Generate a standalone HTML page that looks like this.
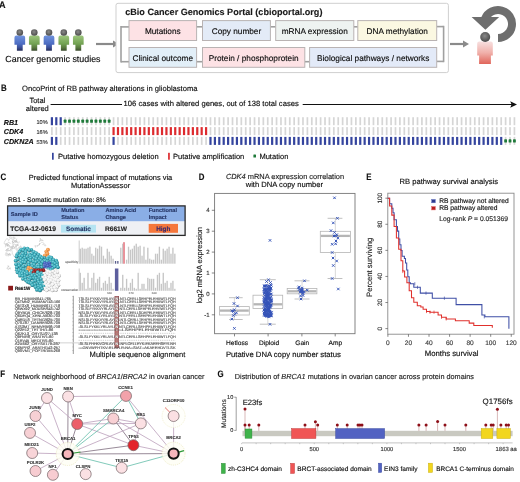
<!DOCTYPE html><html><head><meta charset="utf-8"><title>cBioPortal figure</title><style>html,body{margin:0;padding:0;background:#fff;width:520px;height:482px;overflow:hidden}svg{display:block}text{stroke-width:0.13px}</style></head><body><svg width="520" height="482" viewBox="0 0 520 482" text-rendering="geometricPrecision" font-family='"Liberation Sans", Arial, sans-serif'><defs>
<linearGradient id="gblue" x1="0" y1="0" x2="0" y2="1"><stop offset="0" stop-color="#6f92dc"/><stop offset="0.55" stop-color="#4c6cc2"/><stop offset="0.8" stop-color="#3a4d94"/><stop offset="1" stop-color="#262e58"/></linearGradient>
<linearGradient id="ggreen" x1="0" y1="0" x2="0" y2="1"><stop offset="0" stop-color="#9cc57c"/><stop offset="0.55" stop-color="#72a152"/><stop offset="0.8" stop-color="#58783e"/><stop offset="1" stop-color="#3b4a2e"/></linearGradient>
<linearGradient id="gred" x1="0" y1="0" x2="0" y2="1"><stop offset="0" stop-color="#f7e0e0"/><stop offset="0.5" stop-color="#f0b0aa"/><stop offset="1" stop-color="#e0655a"/></linearGradient>
<radialGradient id="ghead" cx="0.45" cy="0.4" r="0.6"><stop offset="0" stop-color="#8a8a8a"/><stop offset="1" stop-color="#4a4a4a"/></radialGradient>
<radialGradient id="gteal" cx="0.4" cy="0.35" r="0.65"><stop offset="0" stop-color="#86d6df"/><stop offset="0.55" stop-color="#37a9b9"/><stop offset="1" stop-color="#17626e"/></radialGradient>
<radialGradient id="gwhite" cx="0.4" cy="0.35" r="0.65"><stop offset="0" stop-color="#ffffff"/><stop offset="0.65" stop-color="#ececec"/><stop offset="1" stop-color="#8e8e8e"/></radialGradient>
<radialGradient id="gorange" cx="0.4" cy="0.35" r="0.65"><stop offset="0" stop-color="#ffc080"/><stop offset="1" stop-color="#e0701c"/></radialGradient>
<radialGradient id="gdred" cx="0.4" cy="0.35" r="0.65"><stop offset="0" stop-color="#c04040"/><stop offset="1" stop-color="#7a1010"/></radialGradient>
<radialGradient id="gpblue" cx="0.4" cy="0.35" r="0.65"><stop offset="0" stop-color="#6a8ad8"/><stop offset="1" stop-color="#2a40a0"/></radialGradient>
</defs><rect width="520" height="482" fill="#ffffff"/><text stroke="#111" transform="translate(-0.9,7.5) scale(0.95,1)" font-size="9.6" font-weight="bold" fill="#111">A</text>
<path d="M14.45,37.60 Q14.45,35.60 16.45,35.60 L23.15,35.60 Q25.15,35.60 25.15,37.60 L25.15,44.80 L22.70,44.80 L22.70,50.80 L16.90,50.80 L16.90,44.80 L14.45,44.80 Z" fill="url(#gblue)"/>
<circle cx="19.80" cy="32.50" r="3.30" fill="url(#ghead)"/>
<path d="M28.95,37.60 Q28.95,35.60 30.95,35.60 L37.65,35.60 Q39.65,35.60 39.65,37.60 L39.65,44.80 L37.20,44.80 L37.20,50.80 L31.40,50.80 L31.40,44.80 L28.95,44.80 Z" fill="url(#ggreen)"/>
<circle cx="34.30" cy="32.50" r="3.30" fill="url(#ghead)"/>
<path d="M43.65,37.60 Q43.65,35.60 45.65,35.60 L52.35,35.60 Q54.35,35.60 54.35,37.60 L54.35,44.80 L51.90,44.80 L51.90,50.80 L46.10,50.80 L46.10,44.80 L43.65,44.80 Z" fill="url(#gblue)"/>
<circle cx="49.00" cy="32.50" r="3.30" fill="url(#ghead)"/>
<path d="M58.45,37.60 Q58.45,35.60 60.45,35.60 L67.15,35.60 Q69.15,35.60 69.15,37.60 L69.15,44.80 L66.70,44.80 L66.70,50.80 L60.90,50.80 L60.90,44.80 L58.45,44.80 Z" fill="url(#ggreen)"/>
<circle cx="63.80" cy="32.50" r="3.30" fill="url(#ghead)"/>
<path d="M72.95,37.60 Q72.95,35.60 74.95,35.60 L81.65,35.60 Q83.65,35.60 83.65,37.60 L83.65,44.80 L81.20,44.80 L81.20,50.80 L75.40,50.80 L75.40,44.80 L72.95,44.80 Z" fill="url(#ggreen)"/>
<circle cx="78.30" cy="32.50" r="3.30" fill="url(#ghead)"/>
<text x="5.3" y="61.6" font-size="8.9" stroke="#222">Cancer genomic studies</text>
<line x1="96.00" y1="44.00" x2="114.00" y2="44.00" stroke="#8a8a8a" stroke-width="2.2"/>
<path d="M113,40.6 L119,44 L113,47.4 Z" fill="#8a8a8a"/>
<rect x="116.00" y="3.30" width="332.40" height="69.30" fill="#ffffff" stroke="#cfcfcf" stroke-width="1" rx="2"/>
<text x="125.2" y="14.7" font-size="9.08" font-weight="bold" fill="#1a1a1a" stroke="#1a1a1a">cBio Cancer Genomics Portal (cbioportal.org)</text>
<line x1="121.00" y1="26.90" x2="129.00" y2="26.90" stroke="#a0a0a0" stroke-width="1.6"/>
<line x1="121.00" y1="26.10" x2="121.00" y2="62.50" stroke="#a0a0a0" stroke-width="1.6"/>
<line x1="121.00" y1="61.70" x2="129.00" y2="61.70" stroke="#a0a0a0" stroke-width="1.6"/>
<line x1="436.70" y1="26.60" x2="443.60" y2="26.60" stroke="#a0a0a0" stroke-width="1.6"/>
<line x1="443.60" y1="25.80" x2="443.60" y2="62.20" stroke="#a0a0a0" stroke-width="1.6"/>
<line x1="436.70" y1="61.40" x2="443.60" y2="61.40" stroke="#a0a0a0" stroke-width="1.6"/>
<line x1="196.60" y1="26.80" x2="202.50" y2="26.80" stroke="#a0a0a0" stroke-width="1.6"/>
<line x1="270.40" y1="26.80" x2="275.70" y2="26.80" stroke="#a0a0a0" stroke-width="1.6"/>
<line x1="353.80" y1="26.80" x2="357.80" y2="26.80" stroke="#a0a0a0" stroke-width="1.6"/>
<line x1="196.60" y1="61.70" x2="202.50" y2="61.70" stroke="#a0a0a0" stroke-width="1.6"/>
<line x1="304.80" y1="61.70" x2="309.60" y2="61.70" stroke="#a0a0a0" stroke-width="1.6"/>
<rect x="129.00" y="20.60" width="67.60" height="19.90" fill="#fde2e5" stroke="#b9b3b3" stroke-width="1"/>
<text x="162.8" y="34.05" font-size="8.25" text-anchor="middle" stroke="#222">Mutations</text>
<rect x="202.50" y="20.60" width="67.90" height="19.90" fill="#e3ebf7" stroke="#b9b3b3" stroke-width="1"/>
<text x="236.45" y="34.05" font-size="8.25" text-anchor="middle" stroke="#222">Copy number</text>
<rect x="275.70" y="20.60" width="78.10" height="19.90" fill="#eef3f1" stroke="#b9b3b3" stroke-width="1"/>
<text x="314.75" y="34.05" font-size="8.25" text-anchor="middle" stroke="#222">mRNA expression</text>
<rect x="357.80" y="20.60" width="78.90" height="19.90" fill="#fbf8e2" stroke="#b9b3b3" stroke-width="1"/>
<text x="397.25" y="34.05" font-size="8.25" text-anchor="middle" stroke="#222">DNA methylation</text>
<rect x="129.00" y="47.50" width="67.60" height="19.80" fill="#e2eff8" stroke="#b9b3b3" stroke-width="1"/>
<text x="162.8" y="60.9" font-size="8.25" text-anchor="middle" stroke="#222">Clinical outcome</text>
<rect x="202.50" y="47.50" width="102.30" height="19.80" fill="#fde2e5" stroke="#b9b3b3" stroke-width="1"/>
<text x="253.65" y="60.9" font-size="8.25" text-anchor="middle" stroke="#222">Protein / phosphoprotein</text>
<rect x="309.60" y="47.50" width="127.10" height="19.80" fill="#e3eaf8" stroke="#b9b3b3" stroke-width="1"/>
<text x="373.15" y="60.9" font-size="8.25" text-anchor="middle" stroke="#222">Biological pathways / networks</text>
<line x1="450.00" y1="44.00" x2="464.00" y2="44.00" stroke="#8a8a8a" stroke-width="2.2"/>
<path d="M463,40.6 L469,44 L463,47.4 Z" fill="#8a8a8a"/>
<path d="M498,42 A18,18 0 1 0 481.4,17 L471.6,17 L485.4,29.8 L499.2,17 L490.9,17 A10,10 0 1 1 498,34 Z" fill="#6e6e6e"/>
<path d="M477.2,43.5 Q477.2,41.5 479.2,41.5 L490.8,41.5 Q492.8,41.5 492.8,43.5 L492.8,55.5 L490.9,55.5 L490.9,64 L479.1,64 L479.1,55.5 L477.2,55.5 Z" fill="url(#gred)"/>
<circle cx="485.20" cy="37.00" r="5.00" fill="url(#ghead)"/>
<text stroke="#111" transform="translate(1.1,91.0) scale(0.84,1)" font-size="9.4" font-weight="bold" fill="#111">B</text>
<text x="22" y="91.0" font-size="7.62" stroke="#222">OncoPrint of RB pathway alterations in glioblastoma</text>
<text x="37.3" y="102.6" font-size="7.5" text-anchor="middle" stroke="#222">Total</text>
<text x="37.3" y="111.2" font-size="7.5" text-anchor="middle" stroke="#222">altered</text>
<line x1="50.60" y1="104.50" x2="122.00" y2="104.50" stroke="#111" stroke-width="1"/>
<text x="123.6" y="106.3" font-size="7.62" stroke="#222">106 cases with altered genes, out of 138 total cases</text>
<line x1="302.70" y1="104.50" x2="512.00" y2="104.50" stroke="#111" stroke-width="1"/>
<path d="M510.2,101.3 L517,104.5 L510.2,107.7 L511.6,104.5 Z" fill="#111"/>
<text x="3.8" y="124.5" font-size="7.15" font-weight="bold" font-style="italic" fill="#111" stroke="#111">RB1</text>
<text x="47.7" y="124.2" font-size="5.6" text-anchor="end" fill="#333" stroke="#333">10%</text>
<text x="3.8" y="134.4" font-size="7.15" font-weight="bold" font-style="italic" fill="#111" stroke="#111">CDK4</text>
<text x="47.7" y="134.1" font-size="5.6" text-anchor="end" fill="#333" stroke="#333">16%</text>
<text x="3.8" y="144.3" font-size="7.15" font-weight="bold" font-style="italic" fill="#111" stroke="#111">CDKN2A</text>
<text x="47.7" y="144.0" font-size="5.6" text-anchor="end" fill="#333" stroke="#333">53%</text>
<rect x="50.80" y="117.20" width="2.20" height="8.00" fill="#34449e"/>
<rect x="51.05" y="127.10" width="1.70" height="8.00" fill="#d6d6d6"/>
<rect x="50.80" y="136.90" width="2.20" height="8.00" fill="#34449e"/>
<rect x="55.20" y="117.20" width="2.20" height="8.00" fill="#34449e"/>
<rect x="55.45" y="127.10" width="1.70" height="8.00" fill="#d6d6d6"/>
<rect x="55.20" y="136.90" width="2.20" height="8.00" fill="#34449e"/>
<rect x="59.61" y="117.20" width="2.20" height="8.00" fill="#34449e"/>
<rect x="59.86" y="127.10" width="1.70" height="8.00" fill="#d6d6d6"/>
<rect x="59.86" y="136.90" width="1.70" height="8.00" fill="#d6d6d6"/>
<rect x="64.27" y="117.20" width="1.70" height="8.00" fill="#d6d6d6"/>
<rect x="63.71" y="119.60" width="2.80" height="3.20" fill="#1f7a3a" rx="0.6"/>
<rect x="64.27" y="127.10" width="1.70" height="8.00" fill="#d6d6d6"/>
<rect x="64.27" y="136.90" width="1.70" height="8.00" fill="#d6d6d6"/>
<rect x="68.67" y="117.20" width="1.70" height="8.00" fill="#d6d6d6"/>
<rect x="68.12" y="119.60" width="2.80" height="3.20" fill="#1f7a3a" rx="0.6"/>
<rect x="68.67" y="127.10" width="1.70" height="8.00" fill="#d6d6d6"/>
<rect x="68.67" y="136.90" width="1.70" height="8.00" fill="#d6d6d6"/>
<rect x="73.08" y="117.20" width="1.70" height="8.00" fill="#d6d6d6"/>
<rect x="72.52" y="119.60" width="2.80" height="3.20" fill="#1f7a3a" rx="0.6"/>
<rect x="73.08" y="127.10" width="1.70" height="8.00" fill="#d6d6d6"/>
<rect x="73.08" y="136.90" width="1.70" height="8.00" fill="#d6d6d6"/>
<rect x="77.48" y="117.20" width="1.70" height="8.00" fill="#d6d6d6"/>
<rect x="76.93" y="119.60" width="2.80" height="3.20" fill="#1f7a3a" rx="0.6"/>
<rect x="77.48" y="127.10" width="1.70" height="8.00" fill="#d6d6d6"/>
<rect x="77.48" y="136.90" width="1.70" height="8.00" fill="#d6d6d6"/>
<rect x="81.89" y="117.20" width="1.70" height="8.00" fill="#d6d6d6"/>
<rect x="81.33" y="119.60" width="2.80" height="3.20" fill="#1f7a3a" rx="0.6"/>
<rect x="81.89" y="127.10" width="1.70" height="8.00" fill="#d6d6d6"/>
<rect x="81.89" y="136.90" width="1.70" height="8.00" fill="#d6d6d6"/>
<rect x="86.29" y="117.20" width="1.70" height="8.00" fill="#d6d6d6"/>
<rect x="85.74" y="119.60" width="2.80" height="3.20" fill="#1f7a3a" rx="0.6"/>
<rect x="86.29" y="127.10" width="1.70" height="8.00" fill="#d6d6d6"/>
<rect x="86.29" y="136.90" width="1.70" height="8.00" fill="#d6d6d6"/>
<rect x="90.70" y="117.20" width="1.70" height="8.00" fill="#d6d6d6"/>
<rect x="90.14" y="119.60" width="2.80" height="3.20" fill="#1f7a3a" rx="0.6"/>
<rect x="90.70" y="127.10" width="1.70" height="8.00" fill="#d6d6d6"/>
<rect x="90.70" y="136.90" width="1.70" height="8.00" fill="#d6d6d6"/>
<rect x="95.10" y="117.20" width="1.70" height="8.00" fill="#d6d6d6"/>
<rect x="94.55" y="119.60" width="2.80" height="3.20" fill="#1f7a3a" rx="0.6"/>
<rect x="95.10" y="127.10" width="1.70" height="8.00" fill="#d6d6d6"/>
<rect x="95.10" y="136.90" width="1.70" height="8.00" fill="#d6d6d6"/>
<rect x="99.51" y="117.20" width="1.70" height="8.00" fill="#d6d6d6"/>
<rect x="98.95" y="119.60" width="2.80" height="3.20" fill="#1f7a3a" rx="0.6"/>
<rect x="99.51" y="127.10" width="1.70" height="8.00" fill="#d6d6d6"/>
<rect x="99.51" y="136.90" width="1.70" height="8.00" fill="#d6d6d6"/>
<rect x="103.91" y="117.20" width="1.70" height="8.00" fill="#d6d6d6"/>
<rect x="103.36" y="119.60" width="2.80" height="3.20" fill="#1f7a3a" rx="0.6"/>
<rect x="103.91" y="127.10" width="1.70" height="8.00" fill="#d6d6d6"/>
<rect x="103.91" y="136.90" width="1.70" height="8.00" fill="#d6d6d6"/>
<rect x="108.31" y="117.20" width="1.70" height="8.00" fill="#d6d6d6"/>
<rect x="107.76" y="119.60" width="2.80" height="3.20" fill="#1f7a3a" rx="0.6"/>
<rect x="108.31" y="127.10" width="1.70" height="8.00" fill="#d6d6d6"/>
<rect x="108.31" y="136.90" width="1.70" height="8.00" fill="#d6d6d6"/>
<rect x="112.72" y="117.20" width="1.70" height="8.00" fill="#d6d6d6"/>
<rect x="112.47" y="127.10" width="2.20" height="8.00" fill="#dd2a2e"/>
<rect x="112.47" y="136.90" width="2.20" height="8.00" fill="#34449e"/>
<rect x="117.12" y="117.20" width="1.70" height="8.00" fill="#d6d6d6"/>
<rect x="116.88" y="127.10" width="2.20" height="8.00" fill="#dd2a2e"/>
<rect x="117.12" y="136.90" width="1.70" height="8.00" fill="#d6d6d6"/>
<rect x="121.53" y="117.20" width="1.70" height="8.00" fill="#d6d6d6"/>
<rect x="121.28" y="127.10" width="2.20" height="8.00" fill="#dd2a2e"/>
<rect x="121.53" y="136.90" width="1.70" height="8.00" fill="#d6d6d6"/>
<rect x="125.94" y="117.20" width="1.70" height="8.00" fill="#d6d6d6"/>
<rect x="125.69" y="127.10" width="2.20" height="8.00" fill="#dd2a2e"/>
<rect x="125.94" y="136.90" width="1.70" height="8.00" fill="#d6d6d6"/>
<rect x="130.34" y="117.20" width="1.70" height="8.00" fill="#d6d6d6"/>
<rect x="130.09" y="127.10" width="2.20" height="8.00" fill="#dd2a2e"/>
<rect x="130.34" y="136.90" width="1.70" height="8.00" fill="#d6d6d6"/>
<rect x="134.75" y="117.20" width="1.70" height="8.00" fill="#d6d6d6"/>
<rect x="134.50" y="127.10" width="2.20" height="8.00" fill="#dd2a2e"/>
<rect x="134.75" y="136.90" width="1.70" height="8.00" fill="#d6d6d6"/>
<rect x="139.15" y="117.20" width="1.70" height="8.00" fill="#d6d6d6"/>
<rect x="138.90" y="127.10" width="2.20" height="8.00" fill="#dd2a2e"/>
<rect x="139.15" y="136.90" width="1.70" height="8.00" fill="#d6d6d6"/>
<rect x="143.56" y="117.20" width="1.70" height="8.00" fill="#d6d6d6"/>
<rect x="143.31" y="127.10" width="2.20" height="8.00" fill="#dd2a2e"/>
<rect x="143.56" y="136.90" width="1.70" height="8.00" fill="#d6d6d6"/>
<rect x="147.96" y="117.20" width="1.70" height="8.00" fill="#d6d6d6"/>
<rect x="147.71" y="127.10" width="2.20" height="8.00" fill="#dd2a2e"/>
<rect x="147.96" y="136.90" width="1.70" height="8.00" fill="#d6d6d6"/>
<rect x="152.37" y="117.20" width="1.70" height="8.00" fill="#d6d6d6"/>
<rect x="152.12" y="127.10" width="2.20" height="8.00" fill="#dd2a2e"/>
<rect x="152.37" y="136.90" width="1.70" height="8.00" fill="#d6d6d6"/>
<rect x="156.77" y="117.20" width="1.70" height="8.00" fill="#d6d6d6"/>
<rect x="156.52" y="127.10" width="2.20" height="8.00" fill="#dd2a2e"/>
<rect x="156.77" y="136.90" width="1.70" height="8.00" fill="#d6d6d6"/>
<rect x="161.18" y="117.20" width="1.70" height="8.00" fill="#d6d6d6"/>
<rect x="160.93" y="127.10" width="2.20" height="8.00" fill="#dd2a2e"/>
<rect x="161.18" y="136.90" width="1.70" height="8.00" fill="#d6d6d6"/>
<rect x="165.58" y="117.20" width="1.70" height="8.00" fill="#d6d6d6"/>
<rect x="165.33" y="127.10" width="2.20" height="8.00" fill="#dd2a2e"/>
<rect x="165.58" y="136.90" width="1.70" height="8.00" fill="#d6d6d6"/>
<rect x="169.99" y="117.20" width="1.70" height="8.00" fill="#d6d6d6"/>
<rect x="169.74" y="127.10" width="2.20" height="8.00" fill="#dd2a2e"/>
<rect x="169.99" y="136.90" width="1.70" height="8.00" fill="#d6d6d6"/>
<rect x="174.39" y="117.20" width="1.70" height="8.00" fill="#d6d6d6"/>
<rect x="174.14" y="127.10" width="2.20" height="8.00" fill="#dd2a2e"/>
<rect x="174.39" y="136.90" width="1.70" height="8.00" fill="#d6d6d6"/>
<rect x="178.80" y="117.20" width="1.70" height="8.00" fill="#d6d6d6"/>
<rect x="178.55" y="127.10" width="2.20" height="8.00" fill="#dd2a2e"/>
<rect x="178.80" y="136.90" width="1.70" height="8.00" fill="#d6d6d6"/>
<rect x="183.20" y="117.20" width="1.70" height="8.00" fill="#d6d6d6"/>
<rect x="182.95" y="127.10" width="2.20" height="8.00" fill="#dd2a2e"/>
<rect x="183.20" y="136.90" width="1.70" height="8.00" fill="#d6d6d6"/>
<rect x="187.61" y="117.20" width="1.70" height="8.00" fill="#d6d6d6"/>
<rect x="187.36" y="127.10" width="2.20" height="8.00" fill="#dd2a2e"/>
<rect x="187.61" y="136.90" width="1.70" height="8.00" fill="#d6d6d6"/>
<rect x="192.01" y="117.20" width="1.70" height="8.00" fill="#d6d6d6"/>
<rect x="191.76" y="127.10" width="2.20" height="8.00" fill="#dd2a2e"/>
<rect x="192.01" y="136.90" width="1.70" height="8.00" fill="#d6d6d6"/>
<rect x="196.42" y="117.20" width="1.70" height="8.00" fill="#d6d6d6"/>
<rect x="196.17" y="127.10" width="2.20" height="8.00" fill="#dd2a2e"/>
<rect x="196.42" y="136.90" width="1.70" height="8.00" fill="#d6d6d6"/>
<rect x="200.82" y="117.20" width="1.70" height="8.00" fill="#d6d6d6"/>
<rect x="200.57" y="127.10" width="2.20" height="8.00" fill="#dd2a2e"/>
<rect x="200.82" y="136.90" width="1.70" height="8.00" fill="#d6d6d6"/>
<rect x="205.23" y="117.20" width="1.70" height="8.00" fill="#d6d6d6"/>
<rect x="204.98" y="127.10" width="2.20" height="8.00" fill="#dd2a2e"/>
<rect x="205.23" y="136.90" width="1.70" height="8.00" fill="#d6d6d6"/>
<rect x="209.63" y="117.20" width="1.70" height="8.00" fill="#d6d6d6"/>
<rect x="209.63" y="127.10" width="1.70" height="8.00" fill="#d6d6d6"/>
<rect x="209.38" y="136.90" width="2.20" height="8.00" fill="#34449e"/>
<rect x="214.04" y="117.20" width="1.70" height="8.00" fill="#d6d6d6"/>
<rect x="214.04" y="127.10" width="1.70" height="8.00" fill="#d6d6d6"/>
<rect x="213.79" y="136.90" width="2.20" height="8.00" fill="#34449e"/>
<rect x="218.44" y="117.20" width="1.70" height="8.00" fill="#d6d6d6"/>
<rect x="218.44" y="127.10" width="1.70" height="8.00" fill="#d6d6d6"/>
<rect x="218.19" y="136.90" width="2.20" height="8.00" fill="#34449e"/>
<rect x="222.85" y="117.20" width="1.70" height="8.00" fill="#d6d6d6"/>
<rect x="222.85" y="127.10" width="1.70" height="8.00" fill="#d6d6d6"/>
<rect x="222.60" y="136.90" width="2.20" height="8.00" fill="#34449e"/>
<rect x="227.25" y="117.20" width="1.70" height="8.00" fill="#d6d6d6"/>
<rect x="227.25" y="127.10" width="1.70" height="8.00" fill="#d6d6d6"/>
<rect x="227.00" y="136.90" width="2.20" height="8.00" fill="#34449e"/>
<rect x="231.66" y="117.20" width="1.70" height="8.00" fill="#d6d6d6"/>
<rect x="231.66" y="127.10" width="1.70" height="8.00" fill="#d6d6d6"/>
<rect x="231.41" y="136.90" width="2.20" height="8.00" fill="#34449e"/>
<rect x="236.06" y="117.20" width="1.70" height="8.00" fill="#d6d6d6"/>
<rect x="236.06" y="127.10" width="1.70" height="8.00" fill="#d6d6d6"/>
<rect x="235.81" y="136.90" width="2.20" height="8.00" fill="#34449e"/>
<rect x="240.47" y="117.20" width="1.70" height="8.00" fill="#d6d6d6"/>
<rect x="240.47" y="127.10" width="1.70" height="8.00" fill="#d6d6d6"/>
<rect x="240.22" y="136.90" width="2.20" height="8.00" fill="#34449e"/>
<rect x="244.87" y="117.20" width="1.70" height="8.00" fill="#d6d6d6"/>
<rect x="244.87" y="127.10" width="1.70" height="8.00" fill="#d6d6d6"/>
<rect x="244.62" y="136.90" width="2.20" height="8.00" fill="#34449e"/>
<rect x="249.28" y="117.20" width="1.70" height="8.00" fill="#d6d6d6"/>
<rect x="249.28" y="127.10" width="1.70" height="8.00" fill="#d6d6d6"/>
<rect x="249.03" y="136.90" width="2.20" height="8.00" fill="#34449e"/>
<rect x="253.68" y="117.20" width="1.70" height="8.00" fill="#d6d6d6"/>
<rect x="253.68" y="127.10" width="1.70" height="8.00" fill="#d6d6d6"/>
<rect x="253.43" y="136.90" width="2.20" height="8.00" fill="#34449e"/>
<rect x="258.08" y="117.20" width="1.70" height="8.00" fill="#d6d6d6"/>
<rect x="258.08" y="127.10" width="1.70" height="8.00" fill="#d6d6d6"/>
<rect x="257.83" y="136.90" width="2.20" height="8.00" fill="#34449e"/>
<rect x="262.49" y="117.20" width="1.70" height="8.00" fill="#d6d6d6"/>
<rect x="262.49" y="127.10" width="1.70" height="8.00" fill="#d6d6d6"/>
<rect x="262.24" y="136.90" width="2.20" height="8.00" fill="#34449e"/>
<rect x="266.89" y="117.20" width="1.70" height="8.00" fill="#d6d6d6"/>
<rect x="266.89" y="127.10" width="1.70" height="8.00" fill="#d6d6d6"/>
<rect x="266.64" y="136.90" width="2.20" height="8.00" fill="#34449e"/>
<rect x="271.30" y="117.20" width="1.70" height="8.00" fill="#d6d6d6"/>
<rect x="271.30" y="127.10" width="1.70" height="8.00" fill="#d6d6d6"/>
<rect x="271.05" y="136.90" width="2.20" height="8.00" fill="#34449e"/>
<rect x="275.70" y="117.20" width="1.70" height="8.00" fill="#d6d6d6"/>
<rect x="275.70" y="127.10" width="1.70" height="8.00" fill="#d6d6d6"/>
<rect x="275.45" y="136.90" width="2.20" height="8.00" fill="#34449e"/>
<rect x="280.11" y="117.20" width="1.70" height="8.00" fill="#d6d6d6"/>
<rect x="280.11" y="127.10" width="1.70" height="8.00" fill="#d6d6d6"/>
<rect x="279.86" y="136.90" width="2.20" height="8.00" fill="#34449e"/>
<rect x="284.51" y="117.20" width="1.70" height="8.00" fill="#d6d6d6"/>
<rect x="284.51" y="127.10" width="1.70" height="8.00" fill="#d6d6d6"/>
<rect x="284.26" y="136.90" width="2.20" height="8.00" fill="#34449e"/>
<rect x="288.92" y="117.20" width="1.70" height="8.00" fill="#d6d6d6"/>
<rect x="288.92" y="127.10" width="1.70" height="8.00" fill="#d6d6d6"/>
<rect x="288.67" y="136.90" width="2.20" height="8.00" fill="#34449e"/>
<rect x="293.32" y="117.20" width="1.70" height="8.00" fill="#d6d6d6"/>
<rect x="293.32" y="127.10" width="1.70" height="8.00" fill="#d6d6d6"/>
<rect x="293.07" y="136.90" width="2.20" height="8.00" fill="#34449e"/>
<rect x="297.73" y="117.20" width="1.70" height="8.00" fill="#d6d6d6"/>
<rect x="297.73" y="127.10" width="1.70" height="8.00" fill="#d6d6d6"/>
<rect x="297.48" y="136.90" width="2.20" height="8.00" fill="#34449e"/>
<rect x="302.13" y="117.20" width="1.70" height="8.00" fill="#d6d6d6"/>
<rect x="302.13" y="127.10" width="1.70" height="8.00" fill="#d6d6d6"/>
<rect x="301.88" y="136.90" width="2.20" height="8.00" fill="#34449e"/>
<rect x="306.54" y="117.20" width="1.70" height="8.00" fill="#d6d6d6"/>
<rect x="306.54" y="127.10" width="1.70" height="8.00" fill="#d6d6d6"/>
<rect x="306.29" y="136.90" width="2.20" height="8.00" fill="#34449e"/>
<rect x="310.94" y="117.20" width="1.70" height="8.00" fill="#d6d6d6"/>
<rect x="310.94" y="127.10" width="1.70" height="8.00" fill="#d6d6d6"/>
<rect x="310.69" y="136.90" width="2.20" height="8.00" fill="#34449e"/>
<rect x="315.35" y="117.20" width="1.70" height="8.00" fill="#d6d6d6"/>
<rect x="315.35" y="127.10" width="1.70" height="8.00" fill="#d6d6d6"/>
<rect x="315.10" y="136.90" width="2.20" height="8.00" fill="#34449e"/>
<rect x="319.75" y="117.20" width="1.70" height="8.00" fill="#d6d6d6"/>
<rect x="319.75" y="127.10" width="1.70" height="8.00" fill="#d6d6d6"/>
<rect x="319.50" y="136.90" width="2.20" height="8.00" fill="#34449e"/>
<rect x="324.16" y="117.20" width="1.70" height="8.00" fill="#d6d6d6"/>
<rect x="324.16" y="127.10" width="1.70" height="8.00" fill="#d6d6d6"/>
<rect x="323.91" y="136.90" width="2.20" height="8.00" fill="#34449e"/>
<rect x="328.56" y="117.20" width="1.70" height="8.00" fill="#d6d6d6"/>
<rect x="328.56" y="127.10" width="1.70" height="8.00" fill="#d6d6d6"/>
<rect x="328.31" y="136.90" width="2.20" height="8.00" fill="#34449e"/>
<rect x="332.97" y="117.20" width="1.70" height="8.00" fill="#d6d6d6"/>
<rect x="332.97" y="127.10" width="1.70" height="8.00" fill="#d6d6d6"/>
<rect x="332.72" y="136.90" width="2.20" height="8.00" fill="#34449e"/>
<rect x="337.37" y="117.20" width="1.70" height="8.00" fill="#d6d6d6"/>
<rect x="337.37" y="127.10" width="1.70" height="8.00" fill="#d6d6d6"/>
<rect x="337.12" y="136.90" width="2.20" height="8.00" fill="#34449e"/>
<rect x="341.78" y="117.20" width="1.70" height="8.00" fill="#d6d6d6"/>
<rect x="341.78" y="127.10" width="1.70" height="8.00" fill="#d6d6d6"/>
<rect x="341.53" y="136.90" width="2.20" height="8.00" fill="#34449e"/>
<rect x="346.18" y="117.20" width="1.70" height="8.00" fill="#d6d6d6"/>
<rect x="346.18" y="127.10" width="1.70" height="8.00" fill="#d6d6d6"/>
<rect x="345.93" y="136.90" width="2.20" height="8.00" fill="#34449e"/>
<rect x="350.59" y="117.20" width="1.70" height="8.00" fill="#d6d6d6"/>
<rect x="350.59" y="127.10" width="1.70" height="8.00" fill="#d6d6d6"/>
<rect x="350.34" y="136.90" width="2.20" height="8.00" fill="#34449e"/>
<rect x="354.99" y="117.20" width="1.70" height="8.00" fill="#d6d6d6"/>
<rect x="354.99" y="127.10" width="1.70" height="8.00" fill="#d6d6d6"/>
<rect x="354.74" y="136.90" width="2.20" height="8.00" fill="#34449e"/>
<rect x="359.40" y="117.20" width="1.70" height="8.00" fill="#d6d6d6"/>
<rect x="359.40" y="127.10" width="1.70" height="8.00" fill="#d6d6d6"/>
<rect x="359.15" y="136.90" width="2.20" height="8.00" fill="#34449e"/>
<rect x="363.80" y="117.20" width="1.70" height="8.00" fill="#d6d6d6"/>
<rect x="363.80" y="127.10" width="1.70" height="8.00" fill="#d6d6d6"/>
<rect x="363.55" y="136.90" width="2.20" height="8.00" fill="#34449e"/>
<rect x="368.21" y="117.20" width="1.70" height="8.00" fill="#d6d6d6"/>
<rect x="368.21" y="127.10" width="1.70" height="8.00" fill="#d6d6d6"/>
<rect x="367.96" y="136.90" width="2.20" height="8.00" fill="#34449e"/>
<rect x="372.61" y="117.20" width="1.70" height="8.00" fill="#d6d6d6"/>
<rect x="372.61" y="127.10" width="1.70" height="8.00" fill="#d6d6d6"/>
<rect x="372.36" y="136.90" width="2.20" height="8.00" fill="#34449e"/>
<rect x="377.02" y="117.20" width="1.70" height="8.00" fill="#d6d6d6"/>
<rect x="377.02" y="127.10" width="1.70" height="8.00" fill="#d6d6d6"/>
<rect x="376.77" y="136.90" width="2.20" height="8.00" fill="#34449e"/>
<rect x="381.42" y="117.20" width="1.70" height="8.00" fill="#d6d6d6"/>
<rect x="381.42" y="127.10" width="1.70" height="8.00" fill="#d6d6d6"/>
<rect x="381.17" y="136.90" width="2.20" height="8.00" fill="#34449e"/>
<rect x="385.83" y="117.20" width="1.70" height="8.00" fill="#d6d6d6"/>
<rect x="385.83" y="127.10" width="1.70" height="8.00" fill="#d6d6d6"/>
<rect x="385.58" y="136.90" width="2.20" height="8.00" fill="#34449e"/>
<rect x="390.23" y="117.20" width="1.70" height="8.00" fill="#d6d6d6"/>
<rect x="390.23" y="127.10" width="1.70" height="8.00" fill="#d6d6d6"/>
<rect x="389.98" y="136.90" width="2.20" height="8.00" fill="#34449e"/>
<rect x="394.64" y="117.20" width="1.70" height="8.00" fill="#d6d6d6"/>
<rect x="394.64" y="127.10" width="1.70" height="8.00" fill="#d6d6d6"/>
<rect x="394.39" y="136.90" width="2.20" height="8.00" fill="#34449e"/>
<rect x="399.04" y="117.20" width="1.70" height="8.00" fill="#d6d6d6"/>
<rect x="399.04" y="127.10" width="1.70" height="8.00" fill="#d6d6d6"/>
<rect x="398.79" y="136.90" width="2.20" height="8.00" fill="#34449e"/>
<rect x="403.45" y="117.20" width="1.70" height="8.00" fill="#d6d6d6"/>
<rect x="403.45" y="127.10" width="1.70" height="8.00" fill="#d6d6d6"/>
<rect x="403.20" y="136.90" width="2.20" height="8.00" fill="#34449e"/>
<rect x="407.85" y="117.20" width="1.70" height="8.00" fill="#d6d6d6"/>
<rect x="407.85" y="127.10" width="1.70" height="8.00" fill="#d6d6d6"/>
<rect x="407.60" y="136.90" width="2.20" height="8.00" fill="#34449e"/>
<rect x="412.26" y="117.20" width="1.70" height="8.00" fill="#d6d6d6"/>
<rect x="412.26" y="127.10" width="1.70" height="8.00" fill="#d6d6d6"/>
<rect x="412.01" y="136.90" width="2.20" height="8.00" fill="#34449e"/>
<rect x="416.66" y="117.20" width="1.70" height="8.00" fill="#d6d6d6"/>
<rect x="416.66" y="127.10" width="1.70" height="8.00" fill="#d6d6d6"/>
<rect x="416.41" y="136.90" width="2.20" height="8.00" fill="#34449e"/>
<rect x="421.07" y="117.20" width="1.70" height="8.00" fill="#d6d6d6"/>
<rect x="421.07" y="127.10" width="1.70" height="8.00" fill="#d6d6d6"/>
<rect x="420.82" y="136.90" width="2.20" height="8.00" fill="#34449e"/>
<rect x="425.47" y="117.20" width="1.70" height="8.00" fill="#d6d6d6"/>
<rect x="425.47" y="127.10" width="1.70" height="8.00" fill="#d6d6d6"/>
<rect x="425.22" y="136.90" width="2.20" height="8.00" fill="#34449e"/>
<rect x="429.88" y="117.20" width="1.70" height="8.00" fill="#d6d6d6"/>
<rect x="429.88" y="127.10" width="1.70" height="8.00" fill="#d6d6d6"/>
<rect x="429.63" y="136.90" width="2.20" height="8.00" fill="#34449e"/>
<rect x="434.28" y="117.20" width="1.70" height="8.00" fill="#d6d6d6"/>
<rect x="434.28" y="127.10" width="1.70" height="8.00" fill="#d6d6d6"/>
<rect x="434.03" y="136.90" width="2.20" height="8.00" fill="#34449e"/>
<rect x="438.69" y="117.20" width="1.70" height="8.00" fill="#d6d6d6"/>
<rect x="438.69" y="127.10" width="1.70" height="8.00" fill="#d6d6d6"/>
<rect x="438.44" y="136.90" width="2.20" height="8.00" fill="#34449e"/>
<rect x="443.09" y="117.20" width="1.70" height="8.00" fill="#d6d6d6"/>
<rect x="443.09" y="127.10" width="1.70" height="8.00" fill="#d6d6d6"/>
<rect x="442.84" y="136.90" width="2.20" height="8.00" fill="#34449e"/>
<rect x="447.50" y="117.20" width="1.70" height="8.00" fill="#d6d6d6"/>
<rect x="447.50" y="127.10" width="1.70" height="8.00" fill="#d6d6d6"/>
<rect x="447.25" y="136.90" width="2.20" height="8.00" fill="#34449e"/>
<rect x="451.90" y="117.20" width="1.70" height="8.00" fill="#d6d6d6"/>
<rect x="451.90" y="127.10" width="1.70" height="8.00" fill="#d6d6d6"/>
<rect x="451.65" y="136.90" width="2.20" height="8.00" fill="#34449e"/>
<rect x="456.31" y="117.20" width="1.70" height="8.00" fill="#d6d6d6"/>
<rect x="456.31" y="127.10" width="1.70" height="8.00" fill="#d6d6d6"/>
<rect x="456.06" y="136.90" width="2.20" height="8.00" fill="#34449e"/>
<rect x="460.71" y="117.20" width="1.70" height="8.00" fill="#d6d6d6"/>
<rect x="460.71" y="127.10" width="1.70" height="8.00" fill="#d6d6d6"/>
<rect x="460.46" y="136.90" width="2.20" height="8.00" fill="#34449e"/>
<rect x="465.12" y="117.20" width="1.70" height="8.00" fill="#d6d6d6"/>
<rect x="465.12" y="127.10" width="1.70" height="8.00" fill="#d6d6d6"/>
<rect x="464.87" y="136.90" width="2.20" height="8.00" fill="#34449e"/>
<rect x="469.52" y="117.20" width="1.70" height="8.00" fill="#d6d6d6"/>
<rect x="469.52" y="127.10" width="1.70" height="8.00" fill="#d6d6d6"/>
<rect x="469.27" y="136.90" width="2.20" height="8.00" fill="#34449e"/>
<rect x="473.93" y="117.20" width="1.70" height="8.00" fill="#d6d6d6"/>
<rect x="473.93" y="127.10" width="1.70" height="8.00" fill="#d6d6d6"/>
<rect x="473.68" y="136.90" width="2.20" height="8.00" fill="#34449e"/>
<rect x="478.33" y="117.20" width="1.70" height="8.00" fill="#d6d6d6"/>
<rect x="478.33" y="127.10" width="1.70" height="8.00" fill="#d6d6d6"/>
<rect x="478.08" y="136.90" width="2.20" height="8.00" fill="#34449e"/>
<rect x="482.74" y="117.20" width="1.70" height="8.00" fill="#d6d6d6"/>
<rect x="482.74" y="127.10" width="1.70" height="8.00" fill="#d6d6d6"/>
<rect x="482.49" y="136.90" width="2.20" height="8.00" fill="#34449e"/>
<rect x="487.14" y="117.20" width="1.70" height="8.00" fill="#d6d6d6"/>
<rect x="487.14" y="127.10" width="1.70" height="8.00" fill="#d6d6d6"/>
<rect x="486.89" y="136.90" width="2.20" height="8.00" fill="#34449e"/>
<rect x="491.55" y="117.20" width="1.70" height="8.00" fill="#d6d6d6"/>
<rect x="491.55" y="127.10" width="1.70" height="8.00" fill="#d6d6d6"/>
<rect x="491.30" y="136.90" width="2.20" height="8.00" fill="#34449e"/>
<rect x="495.95" y="117.20" width="1.70" height="8.00" fill="#d6d6d6"/>
<rect x="495.95" y="127.10" width="1.70" height="8.00" fill="#d6d6d6"/>
<rect x="495.70" y="136.90" width="2.20" height="8.00" fill="#34449e"/>
<rect x="500.36" y="117.20" width="1.70" height="8.00" fill="#d6d6d6"/>
<rect x="500.36" y="127.10" width="1.70" height="8.00" fill="#d6d6d6"/>
<rect x="500.11" y="136.90" width="2.20" height="8.00" fill="#34449e"/>
<rect x="504.76" y="117.20" width="1.70" height="8.00" fill="#d6d6d6"/>
<rect x="504.76" y="127.10" width="1.70" height="8.00" fill="#d6d6d6"/>
<rect x="504.76" y="136.90" width="1.70" height="8.00" fill="#d6d6d6"/>
<rect x="504.22" y="139.30" width="2.80" height="3.20" fill="#1f7a3a" rx="0.6"/>
<rect x="509.17" y="117.20" width="1.70" height="8.00" fill="#d6d6d6"/>
<rect x="509.17" y="127.10" width="1.70" height="8.00" fill="#d6d6d6"/>
<rect x="509.17" y="136.90" width="1.70" height="8.00" fill="#d6d6d6"/>
<rect x="508.62" y="139.30" width="2.80" height="3.20" fill="#1f7a3a" rx="0.6"/>
<rect x="513.58" y="117.20" width="1.70" height="8.00" fill="#d6d6d6"/>
<rect x="513.58" y="127.10" width="1.70" height="8.00" fill="#d6d6d6"/>
<rect x="513.58" y="136.90" width="1.70" height="8.00" fill="#d6d6d6"/>
<rect x="513.03" y="139.30" width="2.80" height="3.20" fill="#1f7a3a" rx="0.6"/>
<rect x="52.00" y="152.80" width="1.70" height="6.90" fill="#34449e"/>
<text x="58" y="158.7" font-size="7.56" stroke="#222">Putative homozygous deletion</text>
<rect x="168.10" y="152.80" width="1.70" height="6.90" fill="#dd2a2e"/>
<text x="173" y="158.7" font-size="7.56" stroke="#222">Putative amplification</text>
<rect x="253.40" y="154.50" width="2.60" height="3.00" fill="#1f7a3a" rx="0.5"/>
<text x="259.4" y="158.7" font-size="7.56" stroke="#222">Mutation</text>
<text stroke="#111" transform="translate(0.5,180.3) scale(0.84,1)" font-size="9.4" font-weight="bold" fill="#111">C</text>
<text x="100.5" y="179.7" font-size="7.45" text-anchor="middle" stroke="#222">Predicted functional impact of mutations via</text>
<text x="100.6" y="188.0" font-size="7.45" text-anchor="middle" stroke="#222">MutationAssessor</text>
<text x="8" y="201.5" font-size="6.73" stroke="#222">RB1 - Somatic mutation rate: 8%</text>
<rect x="7.60" y="205.90" width="177.50" height="15.60" fill="#8aaee6"/>
<rect x="7.60" y="221.50" width="177.50" height="13.90" fill="#eef0f4"/>
<rect x="7.60" y="205.90" width="177.50" height="29.50" fill="none" stroke="#2a2a2a" stroke-width="1.3"/>
<text x="10.8" y="215.8" font-size="5.6" font-weight="bold" fill="#263666" stroke="#263666">Sample ID</text>
<text x="61.2" y="212.0" font-size="5.6" font-weight="bold" fill="#263666" stroke="#263666">Mutation</text>
<text x="61.2" y="219.2" font-size="5.6" font-weight="bold" fill="#263666" stroke="#263666">Status</text>
<text x="105.4" y="212.0" font-size="5.6" font-weight="bold" fill="#263666" stroke="#263666">Amino Acid</text>
<text x="105.4" y="219.2" font-size="5.6" font-weight="bold" fill="#263666" stroke="#263666">Change</text>
<text x="148.7" y="212.0" font-size="5.6" font-weight="bold" fill="#263666" stroke="#263666">Functional</text>
<text x="148.7" y="219.2" font-size="5.6" font-weight="bold" fill="#263666" stroke="#263666">Impact</text>
<rect x="61.00" y="224.80" width="35.00" height="7.80" fill="#b5e4f2"/>
<rect x="148.70" y="223.90" width="29.30" height="8.90" fill="#f5773c"/>
<text x="10.2" y="231.0" font-size="6.7" font-weight="bold" fill="#1e1e1e" stroke="#1e1e1e">TCGA-12-0619</text>
<text x="78.5" y="231.0" font-size="6.4" text-anchor="middle" font-weight="bold" fill="#263666" stroke="#263666">Somatic</text>
<text x="105.0" y="231.0" font-size="6.6" font-weight="bold" fill="#1e1e1e" stroke="#1e1e1e">R661W</text>
<text x="163.3" y="231.0" font-size="6.4" text-anchor="middle" font-weight="bold" fill="#3b2a6e" stroke="#3b2a6e">High</text>
<path d="M8.6,255.9 L8.0,256.3 L8.6,254.4 L6.4,255.9 L5.3,254.7 L7.5,254.6 L9.0,254.5 L9.6,253.0 L10.2,254.6 L10.3,255.6 L11.1,253.7 M16.4,257.3 L15.5,255.3 L17.1,255.1 L18.1,256.8 L19.0,258.7 L18.6,260.0 L18.3,261.9 L20.0,260.1 L18.4,258.9 L20.4,258.6 L21.0,257.7 M12.6,251.0 L12.0,251.3 L12.3,253.1 L13.1,255.0 L14.7,257.2 L15.4,255.7 L17.0,257.7 L18.8,258.0 L19.8,256.8 L21.2,257.1 L20.3,255.2 M17.8,269.7 L16.0,271.0 L15.6,269.5 L14.7,270.7 L16.3,268.6 L16.8,266.6 L17.8,265.9 L19.5,268.0 L19.5,270.2 L18.7,268.3 L19.1,266.3 M8.0,251.6 L8.4,250.1 L6.4,251.8 L5.6,253.8 L7.4,253.2 L7.2,253.3 L7.8,253.7 L8.1,254.3 L10.0,254.3 L9.7,255.3 L8.6,254.4 M19.7,255.2 L19.9,253.0 L19.5,253.4 L17.4,253.9 L18.0,251.9 L18.5,251.8 L19.3,251.1 L20.2,252.2 L18.1,250.2 L18.9,252.3 L17.8,252.1 M13.9,248.9 L13.3,248.1 L12.7,248.5 L11.8,248.0 L13.0,245.9 L13.3,246.9 L12.5,245.7 L13.8,244.6 L12.5,244.3 L13.3,242.5 L12.6,241.8 M17.5,252.6 L19.1,251.1 L18.3,251.8 L20.0,251.6 L18.8,249.9 L19.0,248.6 L20.3,250.0 L18.9,249.1 L20.3,249.7 L21.6,249.0 L20.0,248.1 M16.9,247.4 L16.2,247.0 L15.9,246.6 L17.7,245.1 L15.6,247.1 L17.2,249.2 L16.9,251.2 L18.8,250.0 L19.9,251.5 L20.6,251.5 L19.7,250.8 M8.4,241.1 L8.8,240.2 L10.2,238.2 L11.9,239.0 L13.8,240.8 L15.6,241.1 L13.4,242.2 L12.0,241.3 L12.7,241.4 L12.3,243.3 L12.8,242.6 M8.8,265.7 L8.7,267.0 L8.0,265.6 L8.2,267.0 L6.7,268.3 L8.6,269.6 L10.0,267.5 L10.6,269.1 L8.6,268.1 L7.6,268.2 L7.2,268.1 M16.6,239.1 L14.7,237.4 L13.0,237.0 L15.1,238.6 L13.3,238.6 L12.5,237.8 L11.8,238.4 L12.2,237.8 L10.9,237.0 L9.2,237.3 L10.2,237.0 M6.2,244.5 L5.6,245.0 L6.9,244.5 L8.2,245.0 L7.9,244.4 L7.9,245.3 L7.5,246.2 L7.4,245.1 L7.5,245.9 L5.6,245.6 L5.3,247.3 M19.0,250.6 L20.8,251.9 L19.8,251.7 L18.1,253.1 L18.8,254.8 L20.1,255.5 L21.1,255.8 L19.4,256.2 L17.2,254.6 L18.4,252.6 L16.6,250.9 M18.2,244.6 L16.1,246.1 L14.4,247.6 L15.2,249.0 L17.2,249.4 L18.5,247.4 L19.7,247.4 L20.6,245.7 L21.7,247.6 L19.8,246.8 L20.1,248.3 M8.6,244.6 L7.5,245.1 L8.6,244.6 L8.1,244.2 L7.4,243.8 L5.6,243.8 L7.7,243.4 L8.7,241.9 L9.6,243.1 L10.3,243.1 L10.3,243.8 M18.5,243.6 L16.7,244.7 L18.5,244.8 L18.3,245.8 L16.9,244.7 L15.6,245.1 L14.7,243.9 L15.6,245.9 L14.7,246.8 L14.3,248.4 L14.7,247.4 M8.3,239.7 L8.2,239.2 L6.7,238.6 L5.9,239.8 L4.4,242.0 L4.3,242.4 L4.2,243.9 L5.6,244.1 L5.5,245.1 L7.1,244.6 L8.1,246.7 M12.0,246.1 L10.8,247.1 L11.6,249.1 L13.2,248.0 L11.8,246.9 L10.4,247.8 L12.0,249.6 L10.9,251.2 L10.1,250.8 L11.1,249.0 L9.3,250.5 M9.4,250.1 L9.7,250.8 L7.6,250.1 L7.3,250.0 L6.0,250.4 L8.0,249.9 L8.2,248.3 L7.2,249.0 L5.5,250.7 L7.3,248.9 L9.2,248.4 M16.6,262.5 L15.7,263.3 L16.4,264.6 L15.3,265.7 L17.4,266.5 L17.5,264.8 L17.5,264.1 L18.5,264.9 L18.7,263.5 L19.4,264.1 L18.0,265.8 M14.8,242.8 L16.7,241.2 L16.0,242.2 L16.4,242.5 L17.1,242.3 L16.2,240.8 L14.3,241.8 L15.5,242.0 L16.5,241.4 L15.5,240.8 L17.1,238.8 M12.6,246.7 L13.8,246.0 L13.0,245.6 L13.2,246.8 L12.6,248.3 L10.8,247.3 L9.1,245.6 L10.3,246.6 L8.9,245.2 L8.6,246.3 L9.9,247.4 M13.9,243.5 L13.4,242.2 L13.6,242.5 L12.2,241.4 L13.5,239.3 L14.8,241.0 L16.8,240.5 L17.0,240.9 L17.6,243.0 L18.4,242.1 L20.0,242.0 M39.4,244.8 L37.2,246.0 L37.9,246.0 L38.0,245.8 L36.7,245.9 L34.7,245.9 L35.3,245.7 L35.6,247.7 M42.0,240.1 L43.3,240.6 L41.3,240.0 L40.2,238.2 L40.3,240.0 L39.6,241.7 L40.4,240.1 L42.0,240.5 M42.3,244.7 L43.4,244.0 L44.7,245.9 L46.0,245.7 L46.0,245.6 L44.3,243.6 L42.4,242.3 L40.9,242.3 M40.3,243.3 L40.0,244.0 L39.1,243.8 L40.2,243.4 L38.8,245.1 L39.8,244.5 L39.2,244.7 L39.6,243.5" fill="none" stroke="#bdbdbd" stroke-width="0.45"/>
<circle cx="24.25" cy="248.25" r="1.75" fill="url(#gteal)"/>
<circle cx="27.50" cy="248.89" r="2.04" fill="url(#gteal)"/>
<circle cx="21.23" cy="249.64" r="1.93" fill="url(#gteal)"/>
<circle cx="47.90" cy="249.80" r="1.95" fill="url(#gorange)"/>
<circle cx="31.32" cy="249.92" r="1.92" fill="url(#gteal)"/>
<circle cx="29.25" cy="250.31" r="1.83" fill="url(#gteal)"/>
<circle cx="23.21" cy="250.34" r="1.95" fill="url(#gteal)"/>
<circle cx="46.20" cy="251.50" r="1.82" fill="url(#gorange)"/>
<circle cx="25.65" cy="251.67" r="1.87" fill="url(#gteal)"/>
<circle cx="33.76" cy="251.80" r="1.90" fill="url(#gteal)"/>
<circle cx="19.67" cy="251.84" r="1.98" fill="url(#gteal)"/>
<circle cx="36.08" cy="253.08" r="1.88" fill="url(#gteal)"/>
<circle cx="32.08" cy="253.74" r="1.85" fill="url(#gteal)"/>
<circle cx="47.30" cy="253.80" r="2.04" fill="url(#gorange)"/>
<circle cx="25.63" cy="253.81" r="1.82" fill="url(#gteal)"/>
<circle cx="22.75" cy="253.86" r="1.86" fill="url(#gteal)"/>
<circle cx="29.12" cy="254.12" r="1.90" fill="url(#gteal)"/>
<circle cx="17.41" cy="254.22" r="1.88" fill="url(#gteal)"/>
<circle cx="38.39" cy="254.66" r="1.90" fill="url(#gteal)"/>
<circle cx="34.78" cy="254.98" r="1.86" fill="url(#gteal)"/>
<circle cx="44.90" cy="255.50" r="2.01" fill="url(#gorange)"/>
<circle cx="30.30" cy="255.87" r="2.01" fill="url(#gteal)"/>
<circle cx="19.67" cy="255.92" r="1.84" fill="url(#gteal)"/>
<circle cx="24.41" cy="256.19" r="2.00" fill="url(#gteal)"/>
<circle cx="22.28" cy="256.26" r="1.78" fill="url(#gteal)"/>
<circle cx="32.61" cy="256.55" r="1.82" fill="url(#gteal)"/>
<circle cx="16.50" cy="256.57" r="1.85" fill="url(#gteal)"/>
<circle cx="40.57" cy="256.64" r="1.98" fill="url(#gteal)"/>
<circle cx="37.12" cy="256.90" r="1.97" fill="url(#gteal)"/>
<circle cx="26.98" cy="257.16" r="1.94" fill="url(#gteal)"/>
<circle cx="49.31" cy="257.35" r="2.05" fill="url(#gteal)"/>
<circle cx="44.29" cy="257.75" r="1.75" fill="url(#gteal)"/>
<circle cx="51.31" cy="257.84" r="1.99" fill="url(#gteal)"/>
<circle cx="34.04" cy="258.08" r="1.81" fill="url(#gteal)"/>
<circle cx="30.56" cy="258.08" r="1.90" fill="url(#gteal)"/>
<circle cx="42.03" cy="258.11" r="1.97" fill="url(#gteal)"/>
<circle cx="24.70" cy="258.23" r="1.88" fill="url(#gteal)"/>
<circle cx="20.76" cy="258.23" r="1.76" fill="url(#gteal)"/>
<circle cx="47.63" cy="258.65" r="1.88" fill="url(#gteal)"/>
<circle cx="39.19" cy="258.86" r="1.83" fill="url(#gteal)"/>
<circle cx="36.10" cy="258.87" r="1.90" fill="url(#gteal)"/>
<circle cx="28.74" cy="259.38" r="1.76" fill="url(#gteal)"/>
<circle cx="50.40" cy="259.72" r="1.86" fill="url(#gteal)"/>
<circle cx="17.66" cy="259.77" r="1.83" fill="url(#gteal)"/>
<circle cx="53.47" cy="259.91" r="1.86" fill="url(#gteal)"/>
<circle cx="22.91" cy="260.01" r="1.93" fill="url(#gteal)"/>
<circle cx="40.74" cy="260.29" r="1.76" fill="url(#gteal)"/>
<circle cx="25.97" cy="260.46" r="1.89" fill="url(#gteal)"/>
<circle cx="30.63" cy="260.63" r="1.97" fill="url(#gteal)"/>
<circle cx="56.28" cy="260.63" r="1.83" fill="url(#gteal)"/>
<circle cx="15.68" cy="260.66" r="1.96" fill="url(#gteal)"/>
<circle cx="44.74" cy="261.02" r="2.04" fill="url(#gteal)"/>
<circle cx="37.58" cy="261.08" r="1.95" fill="url(#gteal)"/>
<circle cx="20.84" cy="261.08" r="1.79" fill="url(#gteal)"/>
<circle cx="33.45" cy="261.56" r="1.97" fill="url(#gteal)"/>
<circle cx="47.11" cy="261.59" r="1.78" fill="url(#gteal)"/>
<circle cx="51.11" cy="261.88" r="1.80" fill="url(#gteal)"/>
<circle cx="42.58" cy="261.93" r="1.99" fill="url(#gteal)"/>
<circle cx="35.74" cy="262.04" r="1.88" fill="url(#gteal)"/>
<circle cx="53.26" cy="262.07" r="1.96" fill="url(#gteal)"/>
<circle cx="22.98" cy="262.13" r="1.97" fill="url(#gteal)"/>
<circle cx="25.02" cy="262.45" r="1.88" fill="url(#gteal)"/>
<circle cx="57.03" cy="262.69" r="1.88" fill="url(#gteal)"/>
<circle cx="39.24" cy="262.72" r="1.78" fill="url(#gteal)"/>
<circle cx="28.72" cy="263.02" r="1.84" fill="url(#gteal)"/>
<circle cx="44.83" cy="263.20" r="1.84" fill="url(#gpblue)"/>
<circle cx="49.05" cy="263.20" r="2.04" fill="url(#gpblue)"/>
<circle cx="54.94" cy="263.40" r="1.79" fill="url(#gteal)"/>
<circle cx="46.81" cy="263.79" r="1.89" fill="url(#gpblue)"/>
<circle cx="18.20" cy="263.93" r="1.90" fill="url(#gteal)"/>
<circle cx="20.98" cy="264.14" r="1.89" fill="url(#gteal)"/>
<circle cx="32.06" cy="264.24" r="1.88" fill="url(#gteal)"/>
<circle cx="16.16" cy="264.37" r="1.97" fill="url(#gteal)"/>
<circle cx="41.22" cy="264.61" r="1.85" fill="url(#gteal)"/>
<circle cx="34.21" cy="264.76" r="1.99" fill="url(#gteal)"/>
<circle cx="57.08" cy="265.05" r="1.90" fill="url(#gteal)"/>
<circle cx="38.41" cy="265.26" r="2.04" fill="url(#gteal)"/>
<circle cx="28.62" cy="265.26" r="1.83" fill="url(#gteal)"/>
<circle cx="50.20" cy="265.30" r="1.79" fill="url(#gpblue)"/>
<circle cx="45.30" cy="265.40" r="1.97" fill="url(#gpblue)"/>
<circle cx="52.53" cy="265.42" r="1.80" fill="url(#gteal)"/>
<circle cx="25.95" cy="265.89" r="1.81" fill="url(#gteal)"/>
<circle cx="47.80" cy="265.90" r="1.92" fill="url(#gpblue)"/>
<circle cx="19.08" cy="266.01" r="1.99" fill="url(#gteal)"/>
<circle cx="32.37" cy="266.29" r="1.79" fill="url(#gteal)"/>
<circle cx="23.28" cy="266.34" r="2.02" fill="url(#gteal)"/>
<circle cx="54.57" cy="266.70" r="1.86" fill="url(#gteal)"/>
<circle cx="36.50" cy="266.77" r="1.94" fill="url(#gteal)"/>
<circle cx="43.89" cy="267.08" r="1.91" fill="url(#gpblue)"/>
<circle cx="57.91" cy="267.33" r="1.87" fill="url(#gteal)"/>
<circle cx="41.49" cy="267.34" r="1.83" fill="url(#gteal)"/>
<circle cx="38.58" cy="267.35" r="1.90" fill="url(#gteal)"/>
<circle cx="16.82" cy="267.40" r="1.92" fill="url(#gteal)"/>
<circle cx="50.52" cy="267.41" r="1.84" fill="url(#gpblue)"/>
<circle cx="28.50" cy="267.60" r="1.77" fill="url(#gorange)"/>
<circle cx="34.44" cy="267.98" r="1.79" fill="url(#gteal)"/>
<circle cx="46.70" cy="268.00" r="1.77" fill="url(#gpblue)"/>
<circle cx="52.57" cy="268.38" r="1.75" fill="url(#gteal)"/>
<circle cx="20.78" cy="268.55" r="1.82" fill="url(#gteal)"/>
<circle cx="30.70" cy="268.60" r="1.90" fill="url(#gorange)"/>
<circle cx="48.45" cy="269.19" r="1.99" fill="url(#gteal)"/>
<circle cx="23.41" cy="269.27" r="1.76" fill="url(#gteal)"/>
<circle cx="25.63" cy="269.40" r="1.80" fill="url(#gteal)"/>
<circle cx="50.85" cy="269.87" r="1.96" fill="url(#gteal)"/>
<circle cx="27.82" cy="270.01" r="2.02" fill="url(#gorange)"/>
<circle cx="45.60" cy="270.16" r="1.88" fill="url(#gwhite)"/>
<circle cx="33.90" cy="270.20" r="2.04" fill="url(#gdred)"/>
<circle cx="38.70" cy="270.20" r="2.04" fill="url(#gdred)"/>
<circle cx="16.93" cy="270.26" r="1.78" fill="url(#gteal)"/>
<circle cx="43.30" cy="270.30" r="1.95" fill="url(#gdred)"/>
<circle cx="36.30" cy="270.40" r="1.97" fill="url(#gdred)"/>
<circle cx="19.01" cy="270.42" r="2.02" fill="url(#gteal)"/>
<circle cx="41.10" cy="270.50" r="1.88" fill="url(#gdred)"/>
<circle cx="31.62" cy="270.82" r="1.76" fill="url(#gteal)"/>
<circle cx="55.16" cy="270.91" r="2.05" fill="url(#gwhite)"/>
<circle cx="48.06" cy="271.37" r="2.03" fill="url(#gwhite)"/>
<circle cx="20.99" cy="271.38" r="1.93" fill="url(#gteal)"/>
<circle cx="52.81" cy="271.45" r="1.96" fill="url(#gwhite)"/>
<circle cx="26.64" cy="271.80" r="1.95" fill="url(#gteal)"/>
<circle cx="23.26" cy="271.87" r="1.97" fill="url(#gteal)"/>
<circle cx="57.26" cy="272.12" r="1.92" fill="url(#gwhite)"/>
<circle cx="50.23" cy="272.17" r="1.95" fill="url(#gwhite)"/>
<circle cx="33.83" cy="272.28" r="2.00" fill="url(#gdred)"/>
<circle cx="37.84" cy="272.40" r="2.03" fill="url(#gteal)"/>
<circle cx="17.39" cy="272.53" r="1.76" fill="url(#gteal)"/>
<circle cx="55.16" cy="272.98" r="1.84" fill="url(#gwhite)"/>
<circle cx="24.96" cy="273.15" r="2.01" fill="url(#gteal)"/>
<circle cx="41.30" cy="273.20" r="2.00" fill="url(#gteal)"/>
<circle cx="19.72" cy="273.62" r="1.75" fill="url(#gteal)"/>
<circle cx="29.91" cy="273.65" r="1.93" fill="url(#gteal)"/>
<circle cx="47.29" cy="273.86" r="1.85" fill="url(#gwhite)"/>
<circle cx="22.14" cy="273.87" r="2.05" fill="url(#gteal)"/>
<circle cx="43.82" cy="273.87" r="1.83" fill="url(#gwhite)"/>
<circle cx="27.33" cy="273.92" r="2.02" fill="url(#gteal)"/>
<circle cx="33.89" cy="274.42" r="1.86" fill="url(#gteal)"/>
<circle cx="39.65" cy="274.50" r="2.05" fill="url(#gteal)"/>
<circle cx="51.80" cy="274.94" r="1.97" fill="url(#gwhite)"/>
<circle cx="49.75" cy="275.02" r="1.80" fill="url(#gwhite)"/>
<circle cx="37.63" cy="275.41" r="1.78" fill="url(#gteal)"/>
<circle cx="56.75" cy="275.52" r="1.99" fill="url(#gwhite)"/>
<circle cx="42.24" cy="275.52" r="2.00" fill="url(#gteal)"/>
<circle cx="31.99" cy="275.54" r="1.92" fill="url(#gteal)"/>
<circle cx="20.03" cy="275.65" r="1.87" fill="url(#gteal)"/>
<circle cx="24.73" cy="275.70" r="1.91" fill="url(#gteal)"/>
<circle cx="58.98" cy="275.74" r="1.88" fill="url(#gwhite)"/>
<circle cx="45.08" cy="275.76" r="1.91" fill="url(#gwhite)"/>
<circle cx="22.61" cy="276.03" r="1.76" fill="url(#gteal)"/>
<circle cx="34.95" cy="276.36" r="1.79" fill="url(#gteal)"/>
<circle cx="54.37" cy="276.66" r="1.88" fill="url(#gwhite)"/>
<circle cx="39.37" cy="277.09" r="2.00" fill="url(#gteal)"/>
<circle cx="28.74" cy="277.28" r="1.77" fill="url(#gteal)"/>
<circle cx="49.16" cy="277.59" r="1.97" fill="url(#gwhite)"/>
<circle cx="42.74" cy="277.74" r="1.94" fill="url(#gwhite)"/>
<circle cx="51.67" cy="277.84" r="1.86" fill="url(#gwhite)"/>
<circle cx="45.79" cy="277.91" r="1.81" fill="url(#gwhite)"/>
<circle cx="25.34" cy="277.93" r="1.98" fill="url(#gteal)"/>
<circle cx="57.28" cy="278.01" r="1.90" fill="url(#gwhite)"/>
<circle cx="33.28" cy="278.29" r="2.02" fill="url(#gteal)"/>
<circle cx="35.98" cy="278.36" r="1.79" fill="url(#gteal)"/>
<circle cx="30.58" cy="278.46" r="1.87" fill="url(#gteal)"/>
<circle cx="22.82" cy="278.92" r="1.78" fill="url(#gteal)"/>
<circle cx="40.90" cy="279.02" r="1.85" fill="url(#gteal)"/>
<circle cx="53.40" cy="279.46" r="1.79" fill="url(#gwhite)"/>
<circle cx="55.75" cy="279.71" r="1.99" fill="url(#gwhite)"/>
<circle cx="48.21" cy="279.76" r="1.96" fill="url(#gwhite)"/>
<circle cx="44.49" cy="279.83" r="1.89" fill="url(#gwhite)"/>
<circle cx="25.82" cy="280.11" r="1.91" fill="url(#gteal)"/>
<circle cx="29.25" cy="280.14" r="1.84" fill="url(#gteal)"/>
<circle cx="37.96" cy="280.18" r="1.95" fill="url(#gteal)"/>
<circle cx="58.44" cy="280.58" r="1.90" fill="url(#gwhite)"/>
<circle cx="50.72" cy="280.76" r="2.03" fill="url(#gwhite)"/>
<circle cx="35.11" cy="280.89" r="1.91" fill="url(#gteal)"/>
<circle cx="53.38" cy="281.76" r="1.80" fill="url(#gwhite)"/>
<circle cx="27.24" cy="281.83" r="1.81" fill="url(#gteal)"/>
<circle cx="32.84" cy="281.93" r="1.79" fill="url(#gteal)"/>
<circle cx="38.76" cy="282.22" r="1.90" fill="url(#gteal)"/>
<circle cx="41.71" cy="282.28" r="2.04" fill="url(#gteal)"/>
<circle cx="49.10" cy="282.32" r="1.89" fill="url(#gwhite)"/>
<circle cx="29.15" cy="282.63" r="1.76" fill="url(#gteal)"/>
<circle cx="45.75" cy="282.72" r="1.81" fill="url(#gwhite)"/>
<circle cx="57.42" cy="283.01" r="1.82" fill="url(#gwhite)"/>
<circle cx="55.27" cy="283.13" r="1.82" fill="url(#gwhite)"/>
<circle cx="31.14" cy="283.21" r="1.90" fill="url(#gteal)"/>
<circle cx="40.27" cy="283.99" r="1.99" fill="url(#gteal)"/>
<circle cx="48.14" cy="284.21" r="1.79" fill="url(#gwhite)"/>
<circle cx="37.12" cy="284.23" r="1.86" fill="url(#gteal)"/>
<circle cx="42.74" cy="284.25" r="1.90" fill="url(#gteal)"/>
<circle cx="34.91" cy="284.30" r="1.86" fill="url(#gteal)"/>
<circle cx="52.46" cy="284.53" r="1.93" fill="url(#gwhite)"/>
<circle cx="44.78" cy="284.76" r="2.04" fill="url(#gwhite)"/>
<circle cx="32.47" cy="285.15" r="1.92" fill="url(#gteal)"/>
<circle cx="58.30" cy="285.17" r="1.89" fill="url(#gwhite)"/>
<circle cx="56.16" cy="285.44" r="1.87" fill="url(#gwhite)"/>
<circle cx="46.83" cy="285.85" r="2.04" fill="url(#gwhite)"/>
<circle cx="49.25" cy="286.10" r="1.94" fill="url(#gwhite)"/>
<circle cx="38.21" cy="286.25" r="1.98" fill="url(#gteal)"/>
<circle cx="43.53" cy="286.41" r="1.79" fill="url(#gteal)"/>
<circle cx="40.68" cy="286.67" r="2.01" fill="url(#gteal)"/>
<circle cx="35.52" cy="286.95" r="1.97" fill="url(#gteal)"/>
<circle cx="57.05" cy="287.29" r="1.80" fill="url(#gwhite)"/>
<circle cx="54.41" cy="287.66" r="1.90" fill="url(#gwhite)"/>
<circle cx="46.75" cy="287.93" r="1.87" fill="url(#gwhite)"/>
<circle cx="51.27" cy="288.20" r="1.75" fill="url(#gwhite)"/>
<circle cx="38.56" cy="288.38" r="1.79" fill="url(#gteal)"/>
<circle cx="44.64" cy="288.72" r="2.01" fill="url(#gwhite)"/>
<circle cx="42.08" cy="288.84" r="1.76" fill="url(#gteal)"/>
<circle cx="49.01" cy="289.35" r="1.90" fill="url(#gwhite)"/>
<circle cx="36.94" cy="289.84" r="1.97" fill="url(#gteal)"/>
<circle cx="55.69" cy="290.17" r="1.95" fill="url(#gwhite)"/>
<circle cx="52.30" cy="290.31" r="1.85" fill="url(#gwhite)"/>
<circle cx="46.70" cy="290.35" r="1.83" fill="url(#gwhite)"/>
<circle cx="39.98" cy="290.38" r="1.98" fill="url(#gteal)"/>
<rect x="8.20" y="285.80" width="4.80" height="4.70" fill="#8b1a1a"/>
<text x="15.0" y="290.2" font-size="4.6" font-weight="bold" stroke="#222">R661W</text>
<text x="78.3" y="263.3" font-size="3.0" text-anchor="end" fill="#777" stroke="#777">specificity</text>
<text x="78.3" y="290.6" font-size="3.0" text-anchor="end" fill="#777" stroke="#777">conservation</text>
<line x1="79.20" y1="240.50" x2="79.20" y2="263.70" stroke="#999" stroke-width="0.5"/>
<line x1="79.20" y1="268.50" x2="79.20" y2="291.00" stroke="#999" stroke-width="0.5"/>
<rect x="79.60" y="248.70" width="1.35" height="15.00" fill="#c6c6c6"/>
<rect x="81.53" y="247.70" width="1.35" height="16.00" fill="#c6c6c6"/>
<rect x="83.46" y="248.70" width="1.35" height="15.00" fill="#c6c6c6"/>
<rect x="85.39" y="248.70" width="1.35" height="15.00" fill="#c6c6c6"/>
<rect x="87.32" y="247.70" width="1.35" height="16.00" fill="#c6c6c6"/>
<rect x="89.25" y="246.70" width="1.35" height="17.00" fill="#c6c6c6"/>
<rect x="91.18" y="253.70" width="1.35" height="10.00" fill="#c6c6c6"/>
<rect x="93.11" y="255.70" width="1.35" height="8.00" fill="#c6c6c6"/>
<rect x="95.04" y="247.70" width="1.35" height="16.00" fill="#c6c6c6"/>
<rect x="96.97" y="248.70" width="1.35" height="15.00" fill="#c6c6c6"/>
<rect x="98.90" y="245.70" width="1.35" height="18.00" fill="#c6c6c6"/>
<rect x="100.83" y="246.70" width="1.35" height="17.00" fill="#c6c6c6"/>
<rect x="102.76" y="255.70" width="1.35" height="8.00" fill="#c6c6c6"/>
<rect x="104.69" y="258.70" width="1.35" height="5.00" fill="#c6c6c6"/>
<rect x="106.62" y="248.70" width="1.35" height="15.00" fill="#c6c6c6"/>
<rect x="108.55" y="251.70" width="1.35" height="12.00" fill="#c6c6c6"/>
<rect x="110.48" y="255.70" width="1.35" height="8.00" fill="#c6c6c6"/>
<rect x="112.41" y="258.70" width="1.35" height="5.00" fill="#c6c6c6"/>
<rect x="120.13" y="247.70" width="1.35" height="16.00" fill="#c6c6c6"/>
<rect x="122.06" y="243.70" width="1.35" height="20.00" fill="#c6c6c6"/>
<rect x="123.00" y="242.20" width="2.00" height="21.50" fill="#e8939b"/>
<rect x="125.92" y="259.70" width="1.35" height="4.00" fill="#c6c6c6"/>
<rect x="127.85" y="246.70" width="1.35" height="17.00" fill="#c6c6c6"/>
<rect x="129.78" y="249.70" width="1.35" height="14.00" fill="#c6c6c6"/>
<rect x="131.71" y="248.70" width="1.35" height="15.00" fill="#c6c6c6"/>
<rect x="133.64" y="245.70" width="1.35" height="18.00" fill="#c6c6c6"/>
<rect x="135.57" y="243.70" width="1.35" height="20.00" fill="#c6c6c6"/>
<rect x="137.50" y="246.70" width="1.35" height="17.00" fill="#c6c6c6"/>
<rect x="139.43" y="245.70" width="1.35" height="18.00" fill="#c6c6c6"/>
<rect x="141.36" y="255.70" width="1.35" height="8.00" fill="#c6c6c6"/>
<rect x="143.29" y="246.70" width="1.35" height="17.00" fill="#c6c6c6"/>
<rect x="145.22" y="259.70" width="1.35" height="4.00" fill="#c6c6c6"/>
<rect x="147.15" y="247.70" width="1.35" height="16.00" fill="#c6c6c6"/>
<rect x="149.08" y="258.70" width="1.35" height="5.00" fill="#c6c6c6"/>
<rect x="151.01" y="259.70" width="1.35" height="4.00" fill="#c6c6c6"/>
<rect x="152.94" y="259.70" width="1.35" height="4.00" fill="#c6c6c6"/>
<rect x="154.87" y="253.70" width="1.35" height="10.00" fill="#c6c6c6"/>
<rect x="156.80" y="253.70" width="1.35" height="10.00" fill="#c6c6c6"/>
<rect x="158.73" y="246.70" width="1.35" height="17.00" fill="#c6c6c6"/>
<rect x="160.66" y="259.70" width="1.35" height="4.00" fill="#c6c6c6"/>
<rect x="162.59" y="248.70" width="1.35" height="15.00" fill="#c6c6c6"/>
<rect x="164.52" y="250.70" width="1.35" height="13.00" fill="#c6c6c6"/>
<rect x="166.45" y="248.70" width="1.35" height="15.00" fill="#c6c6c6"/>
<rect x="168.38" y="246.70" width="1.35" height="17.00" fill="#c6c6c6"/>
<rect x="170.31" y="253.70" width="1.35" height="10.00" fill="#c6c6c6"/>
<rect x="172.24" y="247.70" width="1.35" height="16.00" fill="#c6c6c6"/>
<rect x="174.17" y="253.70" width="1.35" height="10.00" fill="#c6c6c6"/>
<rect x="114.90" y="261.00" width="1.30" height="2.70" fill="#585d8a"/>
<rect x="117.20" y="261.00" width="1.30" height="2.70" fill="#585d8a"/>
<rect x="79.60" y="272.80" width="1.35" height="18.00" fill="#c6c6c6"/>
<rect x="81.53" y="282.80" width="1.35" height="8.00" fill="#c6c6c6"/>
<rect x="83.46" y="277.80" width="1.35" height="13.00" fill="#c6c6c6"/>
<rect x="85.39" y="288.80" width="1.35" height="2.00" fill="#c6c6c6"/>
<rect x="87.32" y="272.80" width="1.35" height="18.00" fill="#c6c6c6"/>
<rect x="89.25" y="287.80" width="1.35" height="3.00" fill="#c6c6c6"/>
<rect x="91.18" y="277.80" width="1.35" height="13.00" fill="#c6c6c6"/>
<rect x="93.11" y="272.80" width="1.35" height="18.00" fill="#c6c6c6"/>
<rect x="95.04" y="282.80" width="1.35" height="8.00" fill="#c6c6c6"/>
<rect x="96.97" y="278.80" width="1.35" height="12.00" fill="#c6c6c6"/>
<rect x="98.90" y="276.80" width="1.35" height="14.00" fill="#c6c6c6"/>
<rect x="100.83" y="287.80" width="1.35" height="3.00" fill="#c6c6c6"/>
<rect x="102.76" y="282.80" width="1.35" height="8.00" fill="#c6c6c6"/>
<rect x="104.69" y="280.80" width="1.35" height="10.00" fill="#c6c6c6"/>
<rect x="106.62" y="283.80" width="1.35" height="7.00" fill="#c6c6c6"/>
<rect x="108.55" y="276.80" width="1.35" height="14.00" fill="#c6c6c6"/>
<rect x="110.48" y="282.80" width="1.35" height="8.00" fill="#c6c6c6"/>
<rect x="112.41" y="288.80" width="1.35" height="2.00" fill="#c6c6c6"/>
<rect x="120.13" y="287.80" width="1.35" height="3.00" fill="#c6c6c6"/>
<rect x="122.06" y="274.80" width="1.35" height="16.00" fill="#c6c6c6"/>
<rect x="123.99" y="287.80" width="1.35" height="3.00" fill="#c6c6c6"/>
<rect x="125.92" y="278.80" width="1.35" height="12.00" fill="#c6c6c6"/>
<rect x="127.85" y="287.80" width="1.35" height="3.00" fill="#c6c6c6"/>
<rect x="129.78" y="282.80" width="1.35" height="8.00" fill="#c6c6c6"/>
<rect x="131.71" y="278.80" width="1.35" height="12.00" fill="#c6c6c6"/>
<rect x="133.64" y="287.80" width="1.35" height="3.00" fill="#c6c6c6"/>
<rect x="135.57" y="288.80" width="1.35" height="2.00" fill="#c6c6c6"/>
<rect x="137.50" y="272.80" width="1.35" height="18.00" fill="#c6c6c6"/>
<rect x="139.43" y="288.80" width="1.35" height="2.00" fill="#c6c6c6"/>
<rect x="141.36" y="283.80" width="1.35" height="7.00" fill="#c6c6c6"/>
<rect x="143.29" y="283.80" width="1.35" height="7.00" fill="#c6c6c6"/>
<rect x="145.22" y="288.80" width="1.35" height="2.00" fill="#c6c6c6"/>
<rect x="147.15" y="277.80" width="1.35" height="13.00" fill="#c6c6c6"/>
<rect x="149.08" y="278.80" width="1.35" height="12.00" fill="#c6c6c6"/>
<rect x="151.01" y="278.80" width="1.35" height="12.00" fill="#c6c6c6"/>
<rect x="152.94" y="278.80" width="1.35" height="12.00" fill="#c6c6c6"/>
<rect x="154.87" y="287.80" width="1.35" height="3.00" fill="#c6c6c6"/>
<rect x="156.80" y="274.80" width="1.35" height="16.00" fill="#c6c6c6"/>
<rect x="158.73" y="272.80" width="1.35" height="18.00" fill="#c6c6c6"/>
<rect x="160.66" y="283.80" width="1.35" height="7.00" fill="#c6c6c6"/>
<rect x="162.59" y="272.80" width="1.35" height="18.00" fill="#c6c6c6"/>
<rect x="164.52" y="282.80" width="1.35" height="8.00" fill="#c6c6c6"/>
<rect x="166.45" y="280.80" width="1.35" height="10.00" fill="#c6c6c6"/>
<rect x="168.38" y="287.80" width="1.35" height="3.00" fill="#c6c6c6"/>
<rect x="170.31" y="282.80" width="1.35" height="8.00" fill="#c6c6c6"/>
<rect x="172.24" y="280.80" width="1.35" height="10.00" fill="#c6c6c6"/>
<rect x="174.17" y="288.80" width="1.35" height="2.00" fill="#c6c6c6"/>
<rect x="114.90" y="268.50" width="3.50" height="22.30" fill="#5d5f9e"/>
<text x="109.5" y="294.4" font-size="2.8" text-anchor="middle" fill="#888" stroke="#888">660</text>
<text x="131.2" y="294.4" font-size="2.8" text-anchor="middle" fill="#888" stroke="#888">670</text>
<text x="154.2" y="294.4" font-size="2.8" text-anchor="middle" fill="#888" stroke="#888">680</text>
<line x1="73.30" y1="295.80" x2="73.30" y2="354.00" stroke="#555" stroke-width="0.6"/>
<line x1="72.40" y1="296.50" x2="73.30" y2="296.50" stroke="#777" stroke-width="0.4"/>
<line x1="72.40" y1="300.10" x2="73.30" y2="300.10" stroke="#777" stroke-width="0.4"/>
<line x1="72.40" y1="303.70" x2="73.30" y2="303.70" stroke="#777" stroke-width="0.4"/>
<line x1="72.40" y1="307.30" x2="73.30" y2="307.30" stroke="#777" stroke-width="0.4"/>
<line x1="72.40" y1="310.90" x2="73.30" y2="310.90" stroke="#777" stroke-width="0.4"/>
<line x1="72.40" y1="314.50" x2="73.30" y2="314.50" stroke="#777" stroke-width="0.4"/>
<line x1="72.40" y1="318.10" x2="73.30" y2="318.10" stroke="#777" stroke-width="0.4"/>
<line x1="72.40" y1="321.70" x2="73.30" y2="321.70" stroke="#777" stroke-width="0.4"/>
<line x1="72.40" y1="325.30" x2="73.30" y2="325.30" stroke="#777" stroke-width="0.4"/>
<line x1="72.40" y1="328.90" x2="73.30" y2="328.90" stroke="#777" stroke-width="0.4"/>
<line x1="72.40" y1="332.50" x2="73.30" y2="332.50" stroke="#777" stroke-width="0.4"/>
<line x1="72.40" y1="336.10" x2="73.30" y2="336.10" stroke="#777" stroke-width="0.4"/>
<line x1="72.40" y1="339.70" x2="73.30" y2="339.70" stroke="#777" stroke-width="0.4"/>
<line x1="72.40" y1="343.30" x2="73.30" y2="343.30" stroke="#777" stroke-width="0.4"/>
<line x1="72.40" y1="346.90" x2="73.30" y2="346.90" stroke="#777" stroke-width="0.4"/>
<line x1="72.40" y1="350.50" x2="73.30" y2="350.50" stroke="#777" stroke-width="0.4"/>
<rect x="57.80" y="342.30" width="118.00" height="1.10" fill="#d6d6d6"/>
<text x="14.7" y="299.5" font-size="3.7" fill="#505050" stroke="#505050" textLength="36.3" lengthAdjust="spacingAndGlyphs">RB_HUMAN/641-765</text>
<text x="14.7" y="303.0" font-size="3.7" fill="#505050" stroke="#505050" textLength="45.4" lengthAdjust="spacingAndGlyphs">Q4TMN2_HUMAN/743-166</text>
<text x="14.7" y="306.5" font-size="3.7" fill="#505050" stroke="#505050" textLength="45.4" lengthAdjust="spacingAndGlyphs">Q5T3X8_HUMAN/617-718</text>
<text x="14.7" y="310.0" font-size="3.7" fill="#505050" stroke="#505050" textLength="45.4" lengthAdjust="spacingAndGlyphs">Q8WX92_MOUSE/643-742</text>
<text x="14.7" y="313.5" font-size="3.7" fill="#505050" stroke="#505050" textLength="45.4" lengthAdjust="spacingAndGlyphs">Q9YBD5_CHICK/628-736</text>
<text x="14.7" y="317.0" font-size="3.7" fill="#505050" stroke="#505050" textLength="45.4" lengthAdjust="spacingAndGlyphs">Q6DEQ4_XENLA/630-733</text>
<text x="14.7" y="320.5" font-size="3.7" fill="#505050" stroke="#505050" textLength="45.4" lengthAdjust="spacingAndGlyphs">Q4RDL8_TETNG/625-730</text>
<text x="14.7" y="324.0" font-size="3.7" fill="#505050" stroke="#505050" textLength="45.4" lengthAdjust="spacingAndGlyphs">Q7SZ87_DANRE/628-739</text>
<text x="14.7" y="327.5" font-size="3.7" fill="#505050" stroke="#505050" textLength="45.4" lengthAdjust="spacingAndGlyphs">A7S3M7_NEMVE/598-708</text>
<text x="14.7" y="331.0" font-size="3.7" fill="#505050" stroke="#505050" textLength="38.6" lengthAdjust="spacingAndGlyphs">Q22E12_TETTH/1-86</text>
<text x="14.7" y="334.5" font-size="3.7" fill="#505050" stroke="#505050" textLength="43.1" lengthAdjust="spacingAndGlyphs">Q6ZKL3_ORYSJ/27-138</text>
<text x="14.7" y="338.0" font-size="3.7" fill="#505050" stroke="#505050" textLength="38.6" lengthAdjust="spacingAndGlyphs">Q9FNR8_ARATH/1-80</text>
<text x="14.7" y="341.5" font-size="3.7" fill="#505050" stroke="#505050" textLength="38.6" lengthAdjust="spacingAndGlyphs">Q1RV45_MEDTR/1-80</text>
<text x="14.7" y="345.0" font-size="3.7" fill="#505050" stroke="#505050" textLength="45.4" lengthAdjust="spacingAndGlyphs">A2X662_ORYSI/179-287</text>
<text x="14.7" y="348.5" font-size="3.7" fill="#505050" stroke="#505050" textLength="45.4" lengthAdjust="spacingAndGlyphs">Q6NPR2_ARATH/142-257</text>
<text x="14.7" y="352.0" font-size="3.7" fill="#505050" stroke="#505050" textLength="45.4" lengthAdjust="spacingAndGlyphs">Q9SVM1_POPTR/155-268</text>
<rect x="114.90" y="296.40" width="3.80" height="51.40" fill="#b97874" stroke="#8a4048" stroke-width="0.6"/>
<text stroke="#555" x="78.6" y="299.50" font-size="3.7" fill="#555" textLength="97" lengthAdjust="spacingAndGlyphs">TSLSLFYKKVYRLAYLRLNTLCERLLSEHPELEHIIWTLFQH</text>
<text stroke="#555" x="78.6" y="303.00" font-size="3.7" fill="#555" textLength="97" lengthAdjust="spacingAndGlyphs">TSLSLFYKKVYRLAYLRLNTLCERLLSEHPELEHIIWTLFQH</text>
<text stroke="#555" x="78.6" y="306.50" font-size="3.7" fill="#555" textLength="97" lengthAdjust="spacingAndGlyphs">TSLSLFYKKVYRLAYLRLNTLFERLLSEHPELEHIIWTLFQH</text>
<text stroke="#555" x="78.6" y="310.00" font-size="3.7" fill="#555" textLength="97" lengthAdjust="spacingAndGlyphs">TSLSLFYKKVYRLAYLRLNTLCERLLSEHPELEHVIWTLFQH</text>
<text stroke="#555" x="78.6" y="313.50" font-size="3.7" fill="#555" textLength="97" lengthAdjust="spacingAndGlyphs">NSLSLFYKKVYRLAYLRLNTLCERLLSDHPELEHIIWTLFQH</text>
<text stroke="#555" x="78.6" y="317.00" font-size="3.7" fill="#555" textLength="97" lengthAdjust="spacingAndGlyphs">-SLSLFYKKLYRLAYLRLNTLFERLLSEHPELEHIIWTLFQH</text>
<text stroke="#555" x="78.6" y="320.50" font-size="3.7" fill="#555" textLength="97" lengthAdjust="spacingAndGlyphs">NSLSLFYKKVYRLAYLRLNTLCERLLTEHPELEHIIWTLFQH</text>
<text stroke="#555" x="78.6" y="324.00" font-size="3.7" fill="#555" textLength="97" lengthAdjust="spacingAndGlyphs">NSLSLFYKKVYRLAYLRLNTLCERLLSEHPELEHIIWTLFQH</text>
<text stroke="#555" x="78.6" y="327.50" font-size="3.7" fill="#555" textLength="97" lengthAdjust="spacingAndGlyphs">-SLSLFYKKLYRLAYLRLNTLCERLLSEHPELEHIIWTLFQH</text>
<text stroke="#555" x="78.6" y="331.00" font-size="3.7" fill="#555" textLength="97" lengthAdjust="spacingAndGlyphs">--------------------------LSEHPELEHIIWTLFQH</text>
<line x1="78.60" y1="333.30" x2="175.50" y2="333.30" stroke="#9a9a9a" stroke-width="0.5" stroke-dasharray="1.2,1"/>
<text stroke="#555" x="78.6" y="338.00" font-size="3.7" fill="#555" textLength="97" lengthAdjust="spacingAndGlyphs">-SLSLFYKKLYRLAYLRLNTLCERLLSEHPELEHIIWTLFQH</text>
<line x1="78.60" y1="340.30" x2="175.50" y2="340.30" stroke="#9a9a9a" stroke-width="0.5" stroke-dasharray="1.2,1"/>
<text stroke="#555" x="78.6" y="345.00" font-size="3.7" fill="#555" textLength="97" lengthAdjust="spacingAndGlyphs">-SLSLFHHKVCRLAYLRLNFLCELLEYK-EKAEEHSEYLNH</text>
<text stroke="#555" x="78.6" y="348.50" font-size="3.7" fill="#555" textLength="97" lengthAdjust="spacingAndGlyphs">---GNVWFHTKV-RLAYLR-NA--SIAT--AKAEEHDVTLSK</text>
<text x="116.8" y="299.5" font-size="3.7" text-anchor="middle" fill="#ffffff" stroke="#ffffff">N</text>
<text x="116.8" y="303.0" font-size="3.7" text-anchor="middle" fill="#ffffff" stroke="#ffffff">N</text>
<text x="116.8" y="306.5" font-size="3.7" text-anchor="middle" fill="#ffffff" stroke="#ffffff">N</text>
<text x="116.8" y="310.0" font-size="3.7" text-anchor="middle" fill="#ffffff" stroke="#ffffff">N</text>
<text x="116.8" y="313.5" font-size="3.7" text-anchor="middle" fill="#ffffff" stroke="#ffffff">N</text>
<text x="116.8" y="317.0" font-size="3.7" text-anchor="middle" fill="#ffffff" stroke="#ffffff">N</text>
<text x="116.8" y="320.5" font-size="3.7" text-anchor="middle" fill="#ffffff" stroke="#ffffff">N</text>
<text x="116.8" y="324.0" font-size="3.7" text-anchor="middle" fill="#ffffff" stroke="#ffffff">N</text>
<text x="116.8" y="327.5" font-size="3.7" text-anchor="middle" fill="#ffffff" stroke="#ffffff">N</text>
<text x="116.8" y="331.0" font-size="3.7" text-anchor="middle" fill="#ffffff" stroke="#ffffff">-</text>
<text x="116.8" y="338.0" font-size="3.7" text-anchor="middle" fill="#ffffff" stroke="#ffffff">N</text>
<text x="116.8" y="345.0" font-size="3.7" text-anchor="middle" fill="#ffffff" stroke="#ffffff">N</text>
<text x="89.6" y="357.0" font-size="7.56" fill="#111" stroke="#111">Multiple sequence alignment</text>
<text stroke="#111" transform="translate(198.8,180.3) scale(0.84,1)" font-size="9.4" font-weight="bold" fill="#111">D</text>
<text stroke="#222" x="285" y="178.8" font-size="7.45" text-anchor="middle" fill="#222"><tspan font-style="italic">CDK4</tspan> mRNA expression correlation</text>
<text x="284.4" y="187.4" font-size="7.62" text-anchor="middle" stroke="#222">with DNA copy number</text>
<line x1="234.40" y1="297.70" x2="234.40" y2="306.60" stroke="#c8c8c8" stroke-width="0.7"/>
<line x1="234.40" y1="315.00" x2="234.40" y2="319.50" stroke="#c8c8c8" stroke-width="0.7"/>
<line x1="229.00" y1="297.70" x2="242.70" y2="297.70" stroke="#b0b0b0" stroke-width="0.8"/>
<line x1="229.00" y1="319.50" x2="242.70" y2="319.50" stroke="#b0b0b0" stroke-width="0.8"/>
<rect x="219.50" y="306.60" width="29.80" height="8.40" fill="#ffffff" stroke="#b5b5b5" stroke-width="0.8"/>
<line x1="220.00" y1="310.60" x2="248.80" y2="310.60" stroke="#b5b5b5" stroke-width="2.3"/>
<line x1="267.85" y1="279.70" x2="267.85" y2="295.20" stroke="#c8c8c8" stroke-width="0.7"/>
<line x1="267.85" y1="308.40" x2="267.85" y2="324.20" stroke="#c8c8c8" stroke-width="0.7"/>
<line x1="259.80" y1="279.70" x2="275.80" y2="279.70" stroke="#b0b0b0" stroke-width="0.8"/>
<line x1="259.80" y1="324.20" x2="275.80" y2="324.20" stroke="#b0b0b0" stroke-width="0.8"/>
<rect x="253.00" y="295.20" width="29.70" height="13.20" fill="#ffffff" stroke="#b5b5b5" stroke-width="0.8"/>
<line x1="253.50" y1="304.30" x2="282.20" y2="304.30" stroke="#b5b5b5" stroke-width="2.3"/>
<line x1="302.05" y1="280.80" x2="302.05" y2="288.40" stroke="#c8c8c8" stroke-width="0.7"/>
<line x1="302.05" y1="293.80" x2="302.05" y2="299.00" stroke="#c8c8c8" stroke-width="0.7"/>
<line x1="294.50" y1="280.80" x2="309.50" y2="280.80" stroke="#b0b0b0" stroke-width="0.8"/>
<line x1="294.50" y1="299.00" x2="309.50" y2="299.00" stroke="#b0b0b0" stroke-width="0.8"/>
<rect x="287.20" y="288.40" width="29.70" height="5.40" fill="#ffffff" stroke="#b5b5b5" stroke-width="0.8"/>
<line x1="287.70" y1="291.30" x2="316.40" y2="291.30" stroke="#b5b5b5" stroke-width="2.3"/>
<line x1="335.35" y1="218.30" x2="335.35" y2="231.30" stroke="#c8c8c8" stroke-width="0.7"/>
<line x1="335.35" y1="252.50" x2="335.35" y2="278.50" stroke="#c8c8c8" stroke-width="0.7"/>
<line x1="327.60" y1="218.30" x2="342.40" y2="218.30" stroke="#b0b0b0" stroke-width="0.8"/>
<line x1="327.60" y1="278.50" x2="342.40" y2="278.50" stroke="#b0b0b0" stroke-width="0.8"/>
<rect x="320.30" y="231.30" width="30.10" height="21.20" fill="#ffffff" stroke="#b5b5b5" stroke-width="0.8"/>
<line x1="320.80" y1="235.90" x2="349.90" y2="235.90" stroke="#b5b5b5" stroke-width="2.3"/>
<rect x="214.60" y="193.40" width="140.40" height="140.30" fill="none" stroke="#777" stroke-width="0.9"/>
<line x1="211.80" y1="210.30" x2="214.70" y2="210.30" stroke="#555" stroke-width="0.7"/>
<text x="209.6" y="212.39999999999998" font-size="6.0" text-anchor="end" fill="#333" stroke="#333">4</text>
<line x1="211.80" y1="231.20" x2="214.70" y2="231.20" stroke="#555" stroke-width="0.7"/>
<text x="209.6" y="233.29999999999998" font-size="6.0" text-anchor="end" fill="#333" stroke="#333">3</text>
<line x1="211.80" y1="252.10" x2="214.70" y2="252.10" stroke="#555" stroke-width="0.7"/>
<text x="209.6" y="254.19999999999996" font-size="6.0" text-anchor="end" fill="#333" stroke="#333">2</text>
<line x1="211.80" y1="273.00" x2="214.70" y2="273.00" stroke="#555" stroke-width="0.7"/>
<text x="209.6" y="275.1" font-size="6.0" text-anchor="end" fill="#333" stroke="#333">1</text>
<line x1="211.80" y1="293.90" x2="214.70" y2="293.90" stroke="#555" stroke-width="0.7"/>
<text x="209.6" y="296.0" font-size="6.0" text-anchor="end" fill="#333" stroke="#333">0</text>
<line x1="211.80" y1="314.80" x2="214.70" y2="314.80" stroke="#555" stroke-width="0.7"/>
<text x="209.6" y="316.9" font-size="6.0" text-anchor="end" fill="#333" stroke="#333">-1</text>
<line x1="234.50" y1="333.80" x2="234.50" y2="336.40" stroke="#555" stroke-width="0.7"/>
<text x="237.0" y="344.6" font-size="6.6" text-anchor="middle" stroke="#222">Hetloss</text>
<line x1="268.10" y1="333.80" x2="268.10" y2="336.40" stroke="#555" stroke-width="0.7"/>
<text x="269.0" y="344.6" font-size="6.6" text-anchor="middle" stroke="#222">Diploid</text>
<line x1="301.90" y1="333.80" x2="301.90" y2="336.40" stroke="#555" stroke-width="0.7"/>
<text x="302.3" y="344.6" font-size="6.6" text-anchor="middle" stroke="#222">Gain</text>
<line x1="335.20" y1="333.80" x2="335.20" y2="336.40" stroke="#555" stroke-width="0.7"/>
<text x="335.3" y="344.6" font-size="6.6" text-anchor="middle" stroke="#222">Amp</text>
<text stroke="#222" transform="translate(202.1,265.3) rotate(-90)" font-size="7.54" text-anchor="middle" fill="#222">log2 mRNA expression</text>
<text x="283.4" y="357.4" font-size="7.69" text-anchor="middle" stroke="#222">Putative DNA copy number status</text>
<path d="M236.25,296.45L238.75,298.95M236.25,298.95L238.75,296.45M232.75,302.25L235.25,304.75M232.75,304.75L235.25,302.25M236.25,304.75L238.75,307.25M236.25,307.25L238.75,304.75M230.65,309.55L233.15,312.05M230.65,312.05L233.15,309.55M233.15,308.45L235.65,310.95M233.15,310.95L235.65,308.45M233.55,313.05L236.05,315.55M233.55,315.55L236.05,313.05M232.05,314.25L234.55,316.75M232.05,316.75L234.55,314.25M230.65,317.85L233.15,320.35M230.65,320.35L233.15,317.85M233.15,327.15L235.65,329.65M233.15,329.65L235.65,327.15M235.15,311.55L237.65,314.05M235.15,314.05L237.65,311.55M232.25,310.25L234.75,312.75M232.25,312.75L234.75,310.25M267.36,307.36L269.86,309.86M267.36,309.86L269.86,307.36M268.63,313.88L271.13,316.38M268.63,316.38L271.13,313.88M268.23,313.23L270.73,315.73M268.23,315.73L270.73,313.23M262.96,298.38L265.46,300.88M262.96,300.88L265.46,298.38M269.73,304.34L272.23,306.84M269.73,306.84L272.23,304.34M269.42,286.93L271.92,289.43M269.42,289.43L271.92,286.93M266.22,291.26L268.72,293.76M266.22,293.76L268.72,291.26M266.77,301.90L269.27,304.40M266.77,304.40L269.27,301.90M262.85,290.29L265.35,292.79M262.85,292.79L265.35,290.29M264.82,313.03L267.32,315.53M264.82,315.53L267.32,313.03M268.42,288.44L270.92,290.94M268.42,290.94L270.92,288.44M268.65,287.76L271.15,290.26M268.65,290.26L271.15,287.76M267.32,287.37L269.82,289.87M267.32,289.87L269.82,287.37M262.76,311.57L265.26,314.07M262.76,314.07L265.26,311.57M264.30,290.25L266.80,292.75M264.30,292.75L266.80,290.25M270.02,311.60L272.52,314.10M270.02,314.10L272.52,311.60M264.89,314.50L267.39,317.00M264.89,317.00L267.39,314.50M266.74,305.28L269.24,307.78M266.74,307.78L269.24,305.28M264.27,313.83L266.77,316.33M264.27,316.33L266.77,313.83M267.86,314.66L270.36,317.16M267.86,317.16L270.36,314.66M269.36,292.96L271.86,295.46M269.36,295.46L271.86,292.96M265.42,288.64L267.92,291.14M265.42,291.14L267.92,288.64M263.83,285.37L266.33,287.87M263.83,287.87L266.33,285.37M264.98,302.85L267.48,305.35M264.98,305.35L267.48,302.85M262.78,305.28L265.28,307.78M262.78,307.78L265.28,305.28M265.25,293.32L267.75,295.82M265.25,295.82L267.75,293.32M268.81,298.87L271.31,301.37M268.81,301.37L271.31,298.87M265.09,298.89L267.59,301.39M265.09,301.39L267.59,298.89M267.96,285.10L270.46,287.60M267.96,287.60L270.46,285.10M269.97,283.99L272.47,286.49M269.97,286.49L272.47,283.99M268.30,310.71L270.80,313.21M268.30,313.21L270.80,310.71M262.88,308.85L265.38,311.35M262.88,311.35L265.38,308.85M265.46,302.05L267.96,304.55M265.46,304.55L267.96,302.05M262.82,284.77L265.32,287.27M262.82,287.27L265.32,284.77M264.09,314.29L266.59,316.79M264.09,316.79L266.59,314.29M264.20,307.81L266.70,310.31M264.20,310.31L266.70,307.81M269.63,313.87L272.13,316.37M269.63,316.37L272.13,313.87M265.30,294.78L267.80,297.28M265.30,297.28L267.80,294.78M266.63,308.46L269.13,310.96M266.63,310.96L269.13,308.46M263.55,307.57L266.05,310.07M263.55,310.07L266.05,307.57M268.65,311.19L271.15,313.69M268.65,313.69L271.15,311.19M263.02,313.99L265.52,316.49M263.02,316.49L265.52,313.99M263.42,294.32L265.92,296.82M263.42,296.82L265.92,294.32M267.27,313.09L269.77,315.59M267.27,315.59L269.77,313.09M265.27,313.29L267.77,315.79M265.27,315.79L267.77,313.29M266.78,293.40L269.28,295.90M266.78,295.90L269.28,293.40M265.09,289.02L267.59,291.52M265.09,291.52L267.59,289.02M263.33,288.09L265.83,290.59M263.33,290.59L265.83,288.09M267.85,315.64L270.35,318.14M267.85,318.14L270.35,315.64M263.95,284.83L266.45,287.33M263.95,287.33L266.45,284.83M270.05,300.59L272.55,303.09M270.05,303.09L272.55,300.59M265.75,290.96L268.25,293.46M265.75,293.46L268.25,290.96M267.15,310.10L269.65,312.60M267.15,312.60L269.65,310.10M266.12,296.96L268.62,299.46M266.12,299.46L268.62,296.96M263.16,313.02L265.66,315.52M263.16,315.52L265.66,313.02M262.99,299.29L265.49,301.79M262.99,301.79L265.49,299.29M268.95,287.49L271.45,289.99M268.95,289.99L271.45,287.49M268.16,314.12L270.66,316.62M268.16,316.62L270.66,314.12M267.41,308.86L269.91,311.36M267.41,311.36L269.91,308.86M263.54,297.37L266.04,299.87M263.54,299.87L266.04,297.37M263.85,310.70L266.35,313.20M263.85,313.20L266.35,310.70M264.93,297.98L267.43,300.48M264.93,300.48L267.43,297.98M270.14,310.95L272.64,313.45M270.14,313.45L272.64,310.95M269.97,297.99L272.47,300.49M269.97,300.49L272.47,297.99M266.36,306.96L268.86,309.46M266.36,309.46L268.86,306.96M266.29,292.71L268.79,295.21M266.29,295.21L268.79,292.71M265.74,288.01L268.24,290.51M265.74,290.51L268.24,288.01M265.54,315.37L268.04,317.87M265.54,317.87L268.04,315.37M269.85,303.63L272.35,306.13M269.85,306.13L272.35,303.63M266.44,294.25L268.94,296.75M266.44,296.75L268.94,294.25M263.41,292.10L265.91,294.60M263.41,294.60L265.91,292.10M268.54,311.44L271.04,313.94M268.54,313.94L271.04,311.44M265.42,308.80L267.92,311.30M265.42,311.30L267.92,308.80M268.48,305.82L270.98,308.32M268.48,308.32L270.98,305.82M267.66,307.94L270.16,310.44M267.66,310.44L270.16,307.94M265.44,306.15L267.94,308.65M265.44,308.65L267.94,306.15M264.83,299.03L267.33,301.53M264.83,301.53L267.33,299.03M268.45,305.70L270.95,308.20M268.45,308.20L270.95,305.70M264.92,313.98L267.42,316.48M264.92,316.48L267.42,313.98M267.56,302.12L270.06,304.62M267.56,304.62L270.06,302.12M262.84,301.03L265.34,303.53M262.84,303.53L265.34,301.03M264.61,305.08L267.11,307.58M264.61,307.58L267.11,305.08M266.18,309.79L268.68,312.29M266.18,312.29L268.68,309.79M267.54,309.17L270.04,311.67M267.54,311.67L270.04,309.17M265.32,304.18L267.82,306.68M265.32,306.68L267.82,304.18M268.21,310.17L270.71,312.67M268.21,312.67L270.71,310.17M265.34,310.64L267.84,313.14M265.34,313.14L267.84,310.64M269.19,305.62L271.69,308.12M269.19,308.12L271.69,305.62M269.97,314.34L272.47,316.84M269.97,316.84L272.47,314.34M266.58,300.45L269.08,302.95M266.58,302.95L269.08,300.45M263.98,310.44L266.48,312.94M263.98,312.94L266.48,310.44M269.69,298.76L272.19,301.26M269.69,301.26L272.19,298.76M267.87,306.64L270.37,309.14M267.87,309.14L270.37,306.64M268.15,288.83L270.65,291.33M268.15,291.33L270.65,288.83M268.52,302.13L271.02,304.63M268.52,304.63L271.02,302.13M267.68,296.93L270.18,299.43M267.68,299.43L270.18,296.93M267.37,308.43L269.87,310.93M267.37,310.93L269.87,308.43M267.46,306.66L269.96,309.16M267.46,309.16L269.96,306.66M262.95,288.45L265.45,290.95M262.95,290.95L265.45,288.45M266.01,304.38L268.51,306.88M266.01,306.88L268.51,304.38M264.37,305.54L266.87,308.04M264.37,308.04L266.87,305.54M267.42,284.61L269.92,287.11M267.42,287.11L269.92,284.61M266.24,290.60L268.74,293.10M266.24,293.10L268.74,290.60M263.15,287.59L265.65,290.09M263.15,290.09L265.65,287.59M265.10,289.15L267.60,291.65M265.10,291.65L267.60,289.15M264.18,284.41L266.68,286.91M264.18,286.91L266.68,284.41M266.19,295.61L268.69,298.11M266.19,298.11L268.69,295.61M267.28,302.43L269.78,304.93M267.28,304.93L269.78,302.43M264.51,312.60L267.01,315.10M264.51,315.10L267.01,312.60M262.75,296.42L265.25,298.92M262.75,298.92L265.25,296.42M264.81,296.58L267.31,299.08M264.81,299.08L267.31,296.58M263.60,310.27L266.10,312.77M263.60,312.77L266.10,310.27M265.52,284.42L268.02,286.92M265.52,286.92L268.02,284.42M267.29,286.33L269.79,288.83M267.29,288.83L269.79,286.33M266.78,294.28L269.28,296.78M266.78,296.78L269.28,294.28M267.05,314.39L269.55,316.89M267.05,316.89L269.55,314.39M268.81,296.87L271.31,299.37M268.81,299.37L271.31,296.87M268.77,304.12L271.27,306.62M268.77,306.62L271.27,304.12M265.48,287.87L267.98,290.37M265.48,290.37L267.98,287.87M267.16,301.58L269.66,304.08M267.16,304.08L269.66,301.58M269.83,314.71L272.33,317.21M269.83,317.21L272.33,314.71M267.25,294.66L269.75,297.16M267.25,297.16L269.75,294.66M269.36,283.28L271.86,285.78M269.36,285.78L271.86,283.28M263.55,301.64L266.05,304.14M263.55,304.14L266.05,301.64M267.30,287.82L269.80,290.32M267.30,290.32L269.80,287.82M267.41,312.22L269.91,314.72M267.41,314.72L269.91,312.22M265.53,297.28L268.03,299.78M265.53,299.78L268.03,297.28M264.42,292.72L266.92,295.22M264.42,295.22L266.92,292.72M269.95,295.59L272.45,298.09M269.95,298.09L272.45,295.59M269.86,312.95L272.36,315.45M269.86,315.45L272.36,312.95M267.16,291.69L269.66,294.19M267.16,294.19L269.66,291.69M270.01,299.38L272.51,301.88M270.01,301.88L272.51,299.38M265.82,293.62L268.32,296.12M265.82,296.12L268.32,293.62M270.03,299.23L272.53,301.73M270.03,301.73L272.53,299.23M264.87,298.75L267.37,301.25M264.87,301.25L267.37,298.75M263.65,303.45L266.15,305.95M263.65,305.95L266.15,303.45M266.03,292.78L268.53,295.28M266.03,295.28L268.53,292.78M268.53,310.12L271.03,312.62M268.53,312.62L271.03,310.12M262.85,300.56L265.35,303.06M262.85,303.06L265.35,300.56M264.78,313.65L267.28,316.15M264.78,316.15L267.28,313.65M268.54,291.23L271.04,293.73M268.54,293.73L271.04,291.23M264.73,288.28L267.23,290.78M264.73,290.78L267.23,288.28M270.07,292.78L272.57,295.28M270.07,295.28L272.57,292.78M267.25,298.68L269.75,301.18M267.25,301.18L269.75,298.68M267.52,302.88L270.02,305.38M267.52,305.38L270.02,302.88M268.25,287.09L270.75,289.59M268.25,289.59L270.75,287.09M268.38,293.02L270.88,295.52M268.38,295.52L270.88,293.02M266.70,294.17L269.20,296.67M266.70,296.67L269.20,294.17M264.95,300.47L267.45,302.97M264.95,302.97L267.45,300.47M266.19,294.98L268.69,297.48M266.19,297.48L268.69,294.98M268.26,302.45L270.76,304.95M268.26,304.95L270.76,302.45M263.02,291.45L265.52,293.95M263.02,293.95L265.52,291.45M266.12,313.04L268.62,315.54M266.12,315.54L268.62,313.04M269.32,300.98L271.82,303.48M269.32,303.48L271.82,300.98M262.86,308.55L265.36,311.05M262.86,311.05L265.36,308.55M265.92,301.96L268.42,304.46M265.92,304.46L268.42,301.96M267.99,303.80L270.49,306.30M267.99,306.30L270.49,303.80M266.32,312.88L268.82,315.38M266.32,315.38L268.82,312.88M265.60,295.99L268.10,298.49M265.60,298.49L268.10,295.99M269.05,289.64L271.55,292.14M269.05,292.14L271.55,289.64M264.94,310.23L267.44,312.73M264.94,312.73L267.44,310.23M263.24,310.43L265.74,312.93M263.24,312.93L265.74,310.43M267.89,297.32L270.39,299.82M267.89,299.82L270.39,297.32M264.87,308.62L267.37,311.12M264.87,311.12L267.37,308.62M269.49,287.89L271.99,290.39M269.49,290.39L271.99,287.89M266.29,301.10L268.79,303.60M266.29,303.60L268.79,301.10M266.43,294.00L268.93,296.50M266.43,296.50L268.93,294.00M263.89,302.29L266.39,304.79M263.89,304.79L266.39,302.29M268.76,285.47L271.26,287.97M268.76,287.97L271.26,285.47M264.45,309.89L266.95,312.39M264.45,312.39L266.95,309.89M267.25,278.45L269.75,280.95M267.25,280.95L269.75,278.45M265.25,280.25L267.75,282.75M265.25,282.75L267.75,280.25M269.25,281.25L271.75,283.75M269.25,283.75L271.75,281.25M268.75,323.05L271.25,325.55M268.75,325.55L271.25,323.05M268.75,239.15L271.25,241.65M268.75,241.65L271.25,239.15M263.75,284.75L266.25,287.25M263.75,287.25L266.25,284.75M269.75,286.75L272.25,289.25M269.75,289.25L272.25,286.75M300.86,286.81L303.36,289.31M300.86,289.31L303.36,286.81M302.78,290.51L305.28,293.01M302.78,293.01L305.28,290.51M305.92,288.90L308.42,291.40M305.92,291.40L308.42,288.90M300.10,289.29L302.60,291.79M300.10,291.79L302.60,289.29M300.87,288.65L303.37,291.15M300.87,291.15L303.37,288.65M297.85,285.65L300.35,288.15M297.85,288.15L300.35,285.65M300.05,288.80L302.55,291.30M300.05,291.30L302.55,288.80M299.31,294.70L301.81,297.20M299.31,297.20L301.81,294.70M301.54,292.39L304.04,294.89M301.54,294.89L304.04,292.39M299.44,290.62L301.94,293.12M299.44,293.12L301.94,290.62M299.91,289.49L302.41,291.99M299.91,291.99L302.41,289.49M301.46,291.30L303.96,293.80M301.46,293.80L303.96,291.30M300.75,290.28L303.25,292.78M300.75,292.78L303.25,290.28M297.90,288.30L300.40,290.80M297.90,290.80L300.40,288.30M300.87,289.13L303.37,291.63M300.87,291.63L303.37,289.13M298.99,290.75L301.49,293.25M298.99,293.25L301.49,290.75M303.25,279.55L305.75,282.05M303.25,282.05L305.75,279.55M299.75,297.75L302.25,300.25M299.75,300.25L302.25,297.75M297.25,286.75L299.75,289.25M297.25,289.25L299.75,286.75M301.75,294.25L304.25,296.75M301.75,296.75L304.25,294.25M333.25,196.55L335.75,199.05M333.25,199.05L335.75,196.55M336.15,217.05L338.65,219.55M336.15,219.55L338.65,217.05M332.05,221.65L334.55,224.15M332.05,224.15L334.55,221.65M329.75,229.35L332.25,231.85M329.75,231.85L332.25,229.35M333.25,231.15L335.75,233.65M333.25,233.65L335.75,231.15M335.45,233.45L337.95,235.95M335.45,235.95L337.95,233.45M336.65,236.75L339.15,239.25M336.65,239.25L339.15,236.75M334.35,234.65L336.85,237.15M334.35,237.15L336.85,234.65M330.95,243.05L333.45,245.55M330.95,245.55L333.45,243.05M334.35,242.55L336.85,245.05M334.35,245.05L336.85,242.55M330.95,251.25L333.45,253.75M330.95,253.75L333.45,251.25M335.45,259.75L337.95,262.25M335.45,262.25L337.95,259.75M332.05,264.25L334.55,266.75M332.05,266.75L334.55,264.25M330.95,277.25L333.45,279.75M330.95,279.75L333.45,277.25M337.05,287.75L339.55,290.25M337.05,290.25L339.55,287.75M332.75,234.75L335.25,237.25M332.75,237.25L335.25,234.75M334.75,239.75L337.25,242.25M334.75,242.25L337.25,239.75M331.75,256.75L334.25,259.25M331.75,259.25L334.25,256.75" fill="none" stroke="#3553b8" stroke-width="0.95"/>
<text stroke="#111" transform="translate(366.2,180.3) scale(0.84,1)" font-size="9.4" font-weight="bold" fill="#111">E</text>
<text x="399.5" y="183.9" font-size="7.61" stroke="#222">RB pathway survival analysis</text>
<rect x="387.80" y="193.20" width="126.20" height="141.00" fill="none" stroke="#8a8a8a" stroke-width="0.9"/>
<line x1="385.40" y1="328.60" x2="387.80" y2="328.60" stroke="#555" stroke-width="0.7"/>
<text stroke="#333" transform="translate(381.8,328.60) rotate(-90)" font-size="6.4" text-anchor="middle" fill="#333">0</text>
<line x1="385.40" y1="302.52" x2="387.80" y2="302.52" stroke="#555" stroke-width="0.7"/>
<text stroke="#333" transform="translate(381.8,302.52) rotate(-90)" font-size="6.4" text-anchor="middle" fill="#333">20</text>
<line x1="385.40" y1="276.44" x2="387.80" y2="276.44" stroke="#555" stroke-width="0.7"/>
<text stroke="#333" transform="translate(381.8,276.44) rotate(-90)" font-size="6.4" text-anchor="middle" fill="#333">40</text>
<line x1="385.40" y1="250.36" x2="387.80" y2="250.36" stroke="#555" stroke-width="0.7"/>
<text stroke="#333" transform="translate(381.8,250.36) rotate(-90)" font-size="6.4" text-anchor="middle" fill="#333">60</text>
<line x1="385.40" y1="224.28" x2="387.80" y2="224.28" stroke="#555" stroke-width="0.7"/>
<text stroke="#333" transform="translate(381.8,224.28) rotate(-90)" font-size="6.4" text-anchor="middle" fill="#333">80</text>
<line x1="385.40" y1="198.20" x2="387.80" y2="198.20" stroke="#555" stroke-width="0.7"/>
<text stroke="#333" transform="translate(381.8,198.20) rotate(-90)" font-size="6.4" text-anchor="middle" fill="#333">100</text>
<line x1="387.90" y1="334.20" x2="387.90" y2="336.80" stroke="#555" stroke-width="0.7"/>
<text x="387.9" y="344.8" font-size="6.6" text-anchor="middle" fill="#333" stroke="#333">0</text>
<line x1="408.46" y1="334.20" x2="408.46" y2="336.80" stroke="#555" stroke-width="0.7"/>
<text x="408.46" y="344.8" font-size="6.6" text-anchor="middle" fill="#333" stroke="#333">20</text>
<line x1="429.02" y1="334.20" x2="429.02" y2="336.80" stroke="#555" stroke-width="0.7"/>
<text x="429.02" y="344.8" font-size="6.6" text-anchor="middle" fill="#333" stroke="#333">40</text>
<line x1="449.58" y1="334.20" x2="449.58" y2="336.80" stroke="#555" stroke-width="0.7"/>
<text x="449.58" y="344.8" font-size="6.6" text-anchor="middle" fill="#333" stroke="#333">60</text>
<line x1="470.14" y1="334.20" x2="470.14" y2="336.80" stroke="#555" stroke-width="0.7"/>
<text x="470.14" y="344.8" font-size="6.6" text-anchor="middle" fill="#333" stroke="#333">80</text>
<line x1="490.70" y1="334.20" x2="490.70" y2="336.80" stroke="#555" stroke-width="0.7"/>
<text x="490.7" y="344.8" font-size="6.6" text-anchor="middle" fill="#333" stroke="#333">100</text>
<line x1="511.26" y1="334.20" x2="511.26" y2="336.80" stroke="#555" stroke-width="0.7"/>
<text x="511.26" y="344.8" font-size="6.6" text-anchor="middle" fill="#333" stroke="#333">120</text>
<text x="451.6" y="356.3" font-size="7.75" text-anchor="middle" stroke="#222">Months survival</text>
<text stroke="#222" transform="translate(372.0,267.3) rotate(-90)" font-size="7.75" text-anchor="middle" fill="#222">Percent surviving</text>
<path d="M387.80,198.20 H389.60 V203.70 H391.80 V208.30 H393.00 V212.80 H394.10 V219.70 H396.40 V226.50 H397.50 V231.10 H398.70 V239.00 H399.80 V244.80 H401.00 V250.50 H402.10 V256.20 H404.40 V258.40 H405.50 V263.00 H406.70 V269.90 H407.80 V276.70 H409.20 V282.70 H410.40 V283.80 H413.80 V283.80 H413.80 V287.30 H420.30 V287.30 H420.30 V293.10 H432.30 V293.10 H432.30 V298.20 H456.10 V298.20 H456.10 V304.60 H481.90 V304.60 H481.90 V315.00 H484.90 V316.80 H508.90 V316.80 H508.90 V328.80" fill="none" stroke="#3f4fa6" stroke-width="1.05"/>
<path d="M387.80,198.20 H389.60 V206.00 H391.80 V215.10 H394.10 V226.50 H396.40 V237.90 H398.70 V249.30 H401.00 V260.70 H402.80 V271.00 H404.60 V276.90 H406.90 V282.70 H409.20 V290.80 H411.50 V297.70 H413.80 V302.30 H417.30 V305.80 H420.80 V306.90 H423.10 V309.20 H426.50 V311.50 H430.00 V312.20 H436.90 V312.20 H438.10 V315.00 H441.50 V317.30 H446.20 V318.90 H455.40 V318.90 H455.40 V320.80 H466.90 V320.80 H469.20 V323.10 H473.80 V325.40 H492.30 V325.40 H492.30 V327.70" fill="none" stroke="#e0302c" stroke-width="1.05"/>
<path d="M414.80,282.20V285.40M417.50,285.70V288.90M426.00,291.50V294.70M444.40,296.60V299.80M484.30,315.20V318.40" fill="none" stroke="#3f4fa6" stroke-width="0.7"/>
<path d="M402.80,269.90V273.10M426.50,309.90V313.10M430.00,310.60V313.80M441.50,315.70V318.90M446.20,317.30V320.50M434.00,310.60V313.80" fill="none" stroke="#e0302c" stroke-width="0.7"/>
<rect x="431.70" y="199.50" width="3.60" height="3.30" fill="#2d3a8c" stroke="#6070c0" stroke-width="0.5"/>
<rect x="431.70" y="206.60" width="3.60" height="3.30" fill="#b82020" stroke="#e06060" stroke-width="0.5"/>
<text x="439.2" y="202.9" font-size="6.7" stroke="#222">RB pathway not altered</text>
<text x="439.2" y="210.2" font-size="6.7" stroke="#222">RB pathway altered</text>
<text stroke="#222" x="439.2" y="221.3" font-size="6.76" fill="#222">Log-rank <tspan font-style="italic">P</tspan> = 0.051369</text>
<text stroke="#111" transform="translate(0.3,376.6) scale(0.84,1)" font-size="9.4" font-weight="bold" fill="#111">F</text>
<text stroke="#222" x="13.3" y="378.7" font-size="7.28" fill="#222">Network neighborhood of <tspan font-style="italic">BRCA1</tspan>/<tspan font-style="italic">BRCA2</tspan> in ovarian cancer</text>
<line x1="68.10" y1="396.50" x2="126.00" y2="395.90" stroke="#bfa5bf" stroke-width="0.85"/>
<line x1="68.10" y1="396.50" x2="67.70" y2="454.00" stroke="#857585" stroke-width="0.85"/>
<line x1="68.10" y1="396.50" x2="77.20" y2="424.00" stroke="#bfa5bf" stroke-width="0.85"/>
<line x1="47.00" y1="398.00" x2="67.70" y2="454.00" stroke="#bfa5bf" stroke-width="0.85"/>
<line x1="47.00" y1="398.00" x2="77.20" y2="424.00" stroke="#bfa5bf" stroke-width="0.85"/>
<line x1="35.50" y1="416.00" x2="67.70" y2="454.00" stroke="#bfa5bf" stroke-width="0.85"/>
<line x1="30.00" y1="432.90" x2="67.70" y2="454.00" stroke="#bfa5bf" stroke-width="0.85"/>
<line x1="32.20" y1="453.00" x2="67.70" y2="454.00" stroke="#bfa5bf" stroke-width="0.85"/>
<line x1="35.50" y1="471.00" x2="67.70" y2="454.00" stroke="#bfa5bf" stroke-width="0.85"/>
<line x1="52.90" y1="474.80" x2="67.70" y2="454.00" stroke="#bfa5bf" stroke-width="0.85"/>
<line x1="77.20" y1="424.00" x2="67.70" y2="454.00" stroke="#857585" stroke-width="0.85"/>
<line x1="77.20" y1="424.00" x2="140.80" y2="423.40" stroke="#bfa5bf" stroke-width="0.85"/>
<line x1="77.20" y1="424.00" x2="133.40" y2="445.20" stroke="#bfa5bf" stroke-width="0.85"/>
<line x1="126.00" y1="395.90" x2="67.70" y2="454.00" stroke="#6cc0ae" stroke-width="0.85"/>
<line x1="126.00" y1="395.90" x2="140.80" y2="423.40" stroke="#6cc0ae" stroke-width="0.85"/>
<line x1="126.00" y1="395.90" x2="173.60" y2="453.60" stroke="#bfa5bf" stroke-width="0.85"/>
<line x1="113.30" y1="418.50" x2="67.70" y2="454.00" stroke="#6cc0ae" stroke-width="0.85"/>
<line x1="113.30" y1="418.50" x2="133.40" y2="445.20" stroke="#857585" stroke-width="0.85"/>
<line x1="113.30" y1="418.50" x2="140.80" y2="423.40" stroke="#bfa5bf" stroke-width="0.85"/>
<line x1="140.80" y1="423.40" x2="67.70" y2="454.00" stroke="#bfa5bf" stroke-width="0.85"/>
<line x1="140.80" y1="423.40" x2="133.40" y2="445.20" stroke="#bfa5bf" stroke-width="0.85"/>
<line x1="133.40" y1="445.20" x2="67.70" y2="454.00" stroke="#857585" stroke-width="0.85"/>
<line x1="133.40" y1="445.20" x2="173.60" y2="453.60" stroke="#bfa5bf" stroke-width="0.85"/>
<line x1="67.70" y1="454.00" x2="173.60" y2="453.60" stroke="#857585" stroke-width="0.85"/>
<line x1="121.70" y1="467.80" x2="67.70" y2="454.00" stroke="#6cc0ae" stroke-width="0.85"/>
<line x1="121.70" y1="467.80" x2="173.60" y2="453.60" stroke="#6cc0ae" stroke-width="0.85"/>
<line x1="173.60" y1="416.00" x2="173.60" y2="453.60" stroke="#bfa5bf" stroke-width="0.85"/>
<line x1="35.50" y1="416.00" x2="47.00" y2="398.00" stroke="#bfa5bf" stroke-width="0.85"/>
<line x1="113.30" y1="418.50" x2="173.60" y2="453.60" stroke="#bfa5bf" stroke-width="0.85"/>
<line x1="77.20" y1="424.00" x2="113.30" y2="418.50" stroke="#bfa5bf" stroke-width="0.85"/>
<circle cx="67.70" cy="454.00" r="11.50" fill="#fefef4" stroke="#e6e2b0" stroke-width="0.6" fill-opacity="0.8" stroke-dasharray="1.2,1"/>
<circle cx="173.60" cy="453.60" r="11.50" fill="#fefef4" stroke="#e6e2b0" stroke-width="0.6" fill-opacity="0.8" stroke-dasharray="1.2,1"/>
<circle cx="173.60" cy="416.00" r="11.50" fill="#fffffa" stroke="#ece8c0" stroke-width="0.6" fill-opacity="0.8" stroke-dasharray="1.2,1"/>
<line x1="67.70" y1="454.00" x2="80.50" y2="452.00" stroke="#2f9a3a" stroke-width="1.2"/>
<line x1="173.60" y1="453.60" x2="184.00" y2="450.60" stroke="#2f9a3a" stroke-width="1.2"/>
<line x1="165.00" y1="407.50" x2="173.60" y2="416.00" stroke="#e05050" stroke-width="0.8"/>
<circle cx="47.00" cy="398.00" r="5.50" fill="#fbe1e4" stroke="#7a6a6c" stroke-width="0.75"/>
<circle cx="68.10" cy="396.50" r="5.50" fill="#fbe1e4" stroke="#7a6a6c" stroke-width="0.75"/>
<circle cx="35.50" cy="416.00" r="5.50" fill="#f7d0d4" stroke="#7a6a6c" stroke-width="0.75"/>
<circle cx="30.00" cy="432.90" r="5.50" fill="#f7d0d4" stroke="#7a6a6c" stroke-width="0.75"/>
<circle cx="32.20" cy="453.00" r="5.50" fill="#f8d4d8" stroke="#7a6a6c" stroke-width="0.75"/>
<circle cx="35.50" cy="471.00" r="5.50" fill="#f7ccd1" stroke="#7a6a6c" stroke-width="0.75"/>
<circle cx="52.90" cy="474.80" r="5.50" fill="#f7ccd1" stroke="#7a6a6c" stroke-width="0.75"/>
<circle cx="85.70" cy="474.10" r="5.50" fill="#fbe1e4" stroke="#7a6a6c" stroke-width="0.75"/>
<circle cx="67.70" cy="454.00" r="5.10" fill="#f5b5bb" stroke="#111" stroke-width="2.0"/>
<circle cx="77.20" cy="424.00" r="5.50" fill="#ec5f6a" stroke="#7a6a6c" stroke-width="0.75"/>
<circle cx="126.00" cy="395.90" r="5.50" fill="#f2a2aa" stroke="#7a6a6c" stroke-width="0.75"/>
<circle cx="113.30" cy="418.50" r="5.50" fill="#f8d0d4" stroke="#7a6a6c" stroke-width="0.75"/>
<circle cx="140.80" cy="423.40" r="5.50" fill="#fbe0e3" stroke="#7a6a6c" stroke-width="0.75"/>
<circle cx="133.40" cy="445.20" r="5.50" fill="#e3242b" stroke="#7a6a6c" stroke-width="0.75"/>
<circle cx="121.70" cy="467.80" r="5.50" fill="#fbe1e4" stroke="#7a6a6c" stroke-width="0.75"/>
<circle cx="173.60" cy="453.60" r="5.10" fill="#f5b5bb" stroke="#111" stroke-width="2.0"/>
<circle cx="173.60" cy="416.00" r="5.50" fill="#fbe0e3" stroke="#7a6a6c" stroke-width="0.75"/>
<text x="47" y="391.1" font-size="4.3" text-anchor="middle" font-weight="bold" fill="#3a3a3a" stroke="#3a3a3a">JUND</text>
<text x="68.1" y="389.6" font-size="4.3" text-anchor="middle" font-weight="bold" fill="#3a3a3a" stroke="#3a3a3a">NBN</text>
<text x="34.9" y="409.1" font-size="4.3" text-anchor="middle" font-weight="bold" fill="#3a3a3a" stroke="#3a3a3a">JUNB</text>
<text x="30" y="425.9" font-size="4.3" text-anchor="middle" font-weight="bold" fill="#3a3a3a" stroke="#3a3a3a">USF2</text>
<text x="31.7" y="446.1" font-size="4.3" text-anchor="middle" font-weight="bold" fill="#3a3a3a" stroke="#3a3a3a">MED21</text>
<text x="35.5" y="464.1" font-size="4.3" text-anchor="middle" font-weight="bold" fill="#3a3a3a" stroke="#3a3a3a">POLR2K</text>
<text x="52.5" y="468.0" font-size="4.3" text-anchor="middle" font-weight="bold" fill="#3a3a3a" stroke="#3a3a3a">NF1</text>
<text x="83" y="468.0" font-size="4.3" text-anchor="middle" font-weight="bold" fill="#3a3a3a" stroke="#3a3a3a">CLSPN</text>
<text x="68.1" y="439.5" font-size="4.3" text-anchor="middle" font-weight="bold" fill="#3a3a3a" stroke="#3a3a3a">BRCA1</text>
<text x="77.2" y="417.1" font-size="4.3" text-anchor="middle" font-weight="bold" fill="#3a3a3a" stroke="#3a3a3a">MYC</text>
<text x="125.5" y="388.5" font-size="4.3" text-anchor="middle" font-weight="bold" fill="#3a3a3a" stroke="#3a3a3a">CCNE1</text>
<text x="113.7" y="411.7" font-size="4.3" text-anchor="middle" font-weight="bold" fill="#3a3a3a" stroke="#3a3a3a">SMARCA4</text>
<text x="140.8" y="415.9" font-size="4.3" text-anchor="middle" font-weight="bold" fill="#3a3a3a" stroke="#3a3a3a">RB1</text>
<text x="133.4" y="438.1" font-size="4.3" text-anchor="middle" font-weight="bold" fill="#3a3a3a" stroke="#3a3a3a">TP53</text>
<text x="121.7" y="461.9" font-size="4.3" text-anchor="middle" font-weight="bold" fill="#3a3a3a" stroke="#3a3a3a">TEX15</text>
<text x="173.6" y="439.3" font-size="4.3" text-anchor="middle" font-weight="bold" fill="#3a3a3a" stroke="#3a3a3a">BRCA2</text>
<text x="173.6" y="402.3" font-size="4.3" text-anchor="middle" font-weight="bold" fill="#3a3a3a" stroke="#3a3a3a">C11ORF30</text>
<text stroke="#111" transform="translate(217.6,376.6) scale(0.84,1)" font-size="9.4" font-weight="bold" fill="#111">G</text>
<text stroke="#222" x="234.8" y="378.9" font-size="7.29" fill="#222">Distribution of <tspan font-style="italic">BRCA1</tspan> mutations in ovarian cancer across protein domains</text>
<line x1="236.20" y1="397.00" x2="236.20" y2="430.60" stroke="#777" stroke-width="0.7"/>
<line x1="234.20" y1="397.20" x2="236.20" y2="397.20" stroke="#777" stroke-width="0.7"/>
<line x1="234.20" y1="430.40" x2="236.20" y2="430.40" stroke="#777" stroke-width="0.7"/>
<text x="233.3" y="399.4" font-size="5.6" text-anchor="end" fill="#333" stroke="#333">10</text>
<text x="233.3" y="432.4" font-size="5.6" text-anchor="end" fill="#333" stroke="#333">0</text>
<text stroke="#222" transform="translate(226.4,413.6) rotate(-90)" font-size="6.7" text-anchor="middle" fill="#222">Mutations</text>
<line x1="242.00" y1="442.90" x2="512.60" y2="442.90" stroke="#9a9a9a" stroke-width="0.6"/>
<line x1="241.60" y1="442.90" x2="241.60" y2="444.20" stroke="#9a9a9a" stroke-width="0.5"/>
<line x1="256.13" y1="442.90" x2="256.13" y2="444.20" stroke="#9a9a9a" stroke-width="0.5"/>
<line x1="270.66" y1="442.90" x2="270.66" y2="444.20" stroke="#9a9a9a" stroke-width="0.5"/>
<line x1="285.19" y1="442.90" x2="285.19" y2="444.20" stroke="#9a9a9a" stroke-width="0.5"/>
<line x1="299.72" y1="442.90" x2="299.72" y2="444.20" stroke="#9a9a9a" stroke-width="0.5"/>
<line x1="314.25" y1="442.90" x2="314.25" y2="444.20" stroke="#9a9a9a" stroke-width="0.5"/>
<line x1="328.78" y1="442.90" x2="328.78" y2="444.20" stroke="#9a9a9a" stroke-width="0.5"/>
<line x1="343.31" y1="442.90" x2="343.31" y2="444.20" stroke="#9a9a9a" stroke-width="0.5"/>
<line x1="357.84" y1="442.90" x2="357.84" y2="444.20" stroke="#9a9a9a" stroke-width="0.5"/>
<line x1="372.37" y1="442.90" x2="372.37" y2="444.20" stroke="#9a9a9a" stroke-width="0.5"/>
<line x1="386.90" y1="442.90" x2="386.90" y2="444.20" stroke="#9a9a9a" stroke-width="0.5"/>
<line x1="401.43" y1="442.90" x2="401.43" y2="444.20" stroke="#9a9a9a" stroke-width="0.5"/>
<line x1="415.96" y1="442.90" x2="415.96" y2="444.20" stroke="#9a9a9a" stroke-width="0.5"/>
<line x1="430.49" y1="442.90" x2="430.49" y2="444.20" stroke="#9a9a9a" stroke-width="0.5"/>
<line x1="445.02" y1="442.90" x2="445.02" y2="444.20" stroke="#9a9a9a" stroke-width="0.5"/>
<line x1="459.55" y1="442.90" x2="459.55" y2="444.20" stroke="#9a9a9a" stroke-width="0.5"/>
<line x1="474.08" y1="442.90" x2="474.08" y2="444.20" stroke="#9a9a9a" stroke-width="0.5"/>
<line x1="488.61" y1="442.90" x2="488.61" y2="444.20" stroke="#9a9a9a" stroke-width="0.5"/>
<line x1="503.14" y1="442.90" x2="503.14" y2="444.20" stroke="#9a9a9a" stroke-width="0.5"/>
<text x="241.6" y="450.9" font-size="5.8" text-anchor="middle" fill="#333" stroke="#333">0</text>
<text x="314.25" y="450.9" font-size="5.8" text-anchor="middle" fill="#333" stroke="#333">500</text>
<text x="386.9" y="450.9" font-size="5.8" text-anchor="middle" fill="#333" stroke="#333">1000</text>
<text x="459.55" y="450.9" font-size="5.8" text-anchor="middle" fill="#333" stroke="#333">1500</text>
<text x="495.6" y="450.9" font-size="5.9" fill="#333" stroke="#333">1863 aa</text>
<line x1="245.00" y1="409.00" x2="245.00" y2="431.00" stroke="#b07070" stroke-width="0.5"/>
<line x1="245.00" y1="425.00" x2="245.00" y2="431.00" stroke="#b07070" stroke-width="0.5"/>
<line x1="249.20" y1="425.00" x2="249.20" y2="431.00" stroke="#b07070" stroke-width="0.5"/>
<line x1="258.80" y1="425.00" x2="258.80" y2="431.00" stroke="#b07070" stroke-width="0.5"/>
<line x1="305.00" y1="425.00" x2="305.00" y2="431.00" stroke="#b07070" stroke-width="0.5"/>
<line x1="315.40" y1="421.70" x2="315.40" y2="431.00" stroke="#b07070" stroke-width="0.5"/>
<line x1="317.70" y1="425.00" x2="317.70" y2="431.00" stroke="#b07070" stroke-width="0.5"/>
<line x1="337.30" y1="425.00" x2="337.30" y2="431.00" stroke="#b07070" stroke-width="0.5"/>
<line x1="347.20" y1="425.00" x2="347.20" y2="431.00" stroke="#b07070" stroke-width="0.5"/>
<line x1="358.00" y1="425.00" x2="358.00" y2="431.00" stroke="#b07070" stroke-width="0.5"/>
<line x1="359.90" y1="425.00" x2="359.90" y2="431.00" stroke="#b07070" stroke-width="0.5"/>
<line x1="362.00" y1="425.00" x2="362.00" y2="431.00" stroke="#b07070" stroke-width="0.5"/>
<line x1="418.90" y1="425.00" x2="418.90" y2="431.00" stroke="#b07070" stroke-width="0.5"/>
<line x1="426.10" y1="425.00" x2="426.10" y2="431.00" stroke="#b07070" stroke-width="0.5"/>
<line x1="437.60" y1="421.50" x2="437.60" y2="431.00" stroke="#b07070" stroke-width="0.5"/>
<line x1="445.00" y1="425.00" x2="445.00" y2="431.00" stroke="#b07070" stroke-width="0.5"/>
<line x1="465.80" y1="425.00" x2="465.80" y2="431.00" stroke="#b07070" stroke-width="0.5"/>
<line x1="485.80" y1="425.00" x2="485.80" y2="431.00" stroke="#b07070" stroke-width="0.5"/>
<line x1="491.20" y1="425.00" x2="491.20" y2="431.00" stroke="#b07070" stroke-width="0.5"/>
<line x1="493.20" y1="425.00" x2="493.20" y2="431.00" stroke="#b07070" stroke-width="0.5"/>
<line x1="497.40" y1="409.30" x2="497.40" y2="431.00" stroke="#b07070" stroke-width="0.5"/>
<line x1="500.90" y1="425.00" x2="500.90" y2="431.00" stroke="#b07070" stroke-width="0.5"/>
<line x1="506.20" y1="425.00" x2="506.20" y2="431.00" stroke="#b07070" stroke-width="0.5"/>
<line x1="508.50" y1="425.00" x2="508.50" y2="431.00" stroke="#b07070" stroke-width="0.5"/>
<rect x="242.50" y="430.80" width="270.10" height="5.40" fill="#c9c9c1"/>
<rect x="245.10" y="429.00" width="6.80" height="9.20" fill="#3fb34a" stroke="#2a8a35" stroke-width="0.5"/>
<rect x="291.60" y="428.60" width="24.30" height="9.90" fill="#f05555" stroke="#c03a3a" stroke-width="0.5"/>
<rect x="335.70" y="428.60" width="48.90" height="9.90" fill="#5262c2" stroke="#3a4aa0" stroke-width="0.5"/>
<rect x="481.20" y="428.60" width="11.60" height="9.90" fill="#f2d61e" stroke="#c9b010" stroke-width="0.5"/>
<rect x="496.90" y="428.60" width="13.40" height="9.90" fill="#f2d61e" stroke="#c9b010" stroke-width="0.5"/>
<circle cx="245.00" cy="409.00" r="1.50" fill="#8e0f18"/>
<circle cx="245.00" cy="425.00" r="1.50" fill="#8e0f18"/>
<circle cx="249.20" cy="425.00" r="1.50" fill="#8e0f18"/>
<circle cx="258.80" cy="425.00" r="1.50" fill="#8e0f18"/>
<circle cx="305.00" cy="425.00" r="1.50" fill="#8e0f18"/>
<circle cx="315.40" cy="421.70" r="1.50" fill="#8e0f18"/>
<circle cx="317.70" cy="425.00" r="1.50" fill="#8e0f18"/>
<circle cx="337.30" cy="425.00" r="1.50" fill="#8e0f18"/>
<circle cx="347.20" cy="425.00" r="1.50" fill="#8e0f18"/>
<circle cx="358.00" cy="425.00" r="1.50" fill="#8e0f18"/>
<circle cx="359.90" cy="425.00" r="1.50" fill="#8e0f18"/>
<circle cx="362.00" cy="425.00" r="1.50" fill="#8e0f18"/>
<circle cx="418.90" cy="425.00" r="1.50" fill="#8e0f18"/>
<circle cx="426.10" cy="425.00" r="1.50" fill="#8e0f18"/>
<circle cx="437.60" cy="421.50" r="1.50" fill="#8e0f18"/>
<circle cx="445.00" cy="425.00" r="1.50" fill="#8e0f18"/>
<circle cx="465.80" cy="425.00" r="1.50" fill="#8e0f18"/>
<circle cx="485.80" cy="425.00" r="1.50" fill="#8e0f18"/>
<circle cx="491.20" cy="425.00" r="1.50" fill="#8e0f18"/>
<circle cx="493.20" cy="425.00" r="1.50" fill="#8e0f18"/>
<circle cx="497.40" cy="409.30" r="1.50" fill="#8e0f18"/>
<circle cx="500.90" cy="425.00" r="1.50" fill="#8e0f18"/>
<circle cx="506.20" cy="425.00" r="1.50" fill="#8e0f18"/>
<circle cx="508.50" cy="425.00" r="1.50" fill="#8e0f18"/>
<text x="242.7" y="405" font-size="7.67" fill="#111" stroke="#111">E23fs</text>
<text x="482.6" y="403.8" font-size="7.94" fill="#111" stroke="#111">Q1756fs</text>
<rect x="221.40" y="463.40" width="3.80" height="10.00" fill="#3fb34a" stroke="#2a8a35" stroke-width="0.5"/>
<text x="228" y="471.2" font-size="6.57" stroke="#222">zh-C3HC4 domain</text>
<rect x="290.70" y="463.40" width="3.80" height="10.00" fill="#f05555" stroke="#c03a3a" stroke-width="0.5"/>
<text x="297.3" y="471.2" font-size="6.57" stroke="#222">BRCT-associated domain</text>
<rect x="378.50" y="463.20" width="3.20" height="9.20" fill="#5262c2" stroke="#3a4aa0" stroke-width="0.5"/>
<text x="384" y="470.9" font-size="6.57" stroke="#222">EIN3 family</text>
<rect x="428.40" y="463.20" width="4.10" height="9.20" fill="#f2d61e" stroke="#c9b010" stroke-width="0.5"/>
<text x="436.3" y="470.9" font-size="6.43" stroke="#222">BRCA1 C-terminus domain</text></svg></body></html>
